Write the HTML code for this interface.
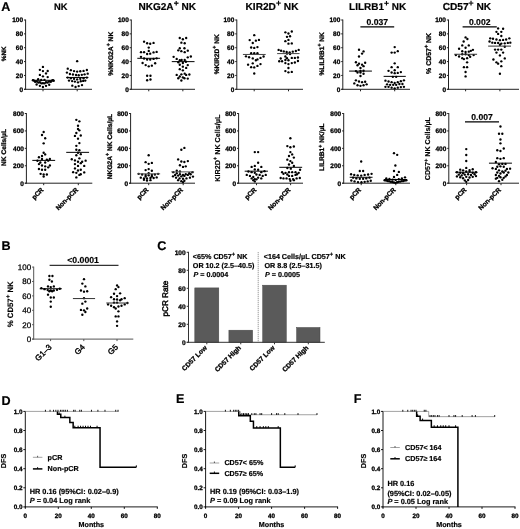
<!DOCTYPE html>
<html lang="en"><head><meta charset="utf-8"><title>Figure</title>
<style>html,body{margin:0;padding:0;background:#fff}svg{display:block;filter:blur(0.3px)}</style></head>
<body>
<svg width="520" height="529" viewBox="0 0 520 529" font-family="'Liberation Sans', sans-serif" shape-rendering="geometricPrecision" text-rendering="geometricPrecision">
<rect width="520" height="529" fill="#fff"/>
<line x1="25.6" y1="19.55" x2="25.6" y2="89.75" stroke="#222" stroke-width="1.0" />
<line x1="24" y1="89.3" x2="92" y2="89.3" stroke="#222" stroke-width="1.0" />
<line x1="24" y1="89.3" x2="25.6" y2="89.3" stroke="#222" stroke-width="1.0" />
<text x="23.1" y="91.63" font-size="6.5" text-anchor="end" font-weight="bold" fill="#000" stroke="#000" stroke-width="0.3" >0</text>
<line x1="24" y1="75.44" x2="25.6" y2="75.44" stroke="#222" stroke-width="1.0" />
<text x="23.1" y="77.77" font-size="6.5" text-anchor="end" font-weight="bold" fill="#000" stroke="#000" stroke-width="0.3" >20</text>
<line x1="24" y1="61.58" x2="25.6" y2="61.58" stroke="#222" stroke-width="1.0" />
<text x="23.1" y="63.91" font-size="6.5" text-anchor="end" font-weight="bold" fill="#000" stroke="#000" stroke-width="0.3" >40</text>
<line x1="24" y1="47.72" x2="25.6" y2="47.72" stroke="#222" stroke-width="1.0" />
<text x="23.1" y="50.05" font-size="6.5" text-anchor="end" font-weight="bold" fill="#000" stroke="#000" stroke-width="0.3" >60</text>
<line x1="24" y1="33.86" x2="25.6" y2="33.86" stroke="#222" stroke-width="1.0" />
<text x="23.1" y="36.19" font-size="6.5" text-anchor="end" font-weight="bold" fill="#000" stroke="#000" stroke-width="0.3" >80</text>
<line x1="24" y1="20" x2="25.6" y2="20" stroke="#222" stroke-width="1.0" />
<text x="23.1" y="22.33" font-size="6.5" text-anchor="end" font-weight="bold" fill="#000" stroke="#000" stroke-width="0.3" >100</text>
<line x1="43" y1="89.3" x2="43" y2="91.3" stroke="#222" stroke-width="1.0" />
<line x1="77.2" y1="89.3" x2="77.2" y2="91.3" stroke="#222" stroke-width="1.0" />
<g fill="#000"><circle cx="42.95" cy="66.89" r="1.18"/><circle cx="39.88" cy="69.85" r="1.18"/><circle cx="42.95" cy="71.08" r="1.18"/><circle cx="47.69" cy="70.95" r="1.18"/><circle cx="46.03" cy="73.42" r="1.18"/><circle cx="39.88" cy="74.89" r="1.18"/><circle cx="42.95" cy="76.31" r="1.18"/><circle cx="47.69" cy="77.11" r="1.18"/><circle cx="38.15" cy="79.2" r="1.18"/><circle cx="41.23" cy="80" r="1.18"/><circle cx="44.49" cy="79.82" r="1.18"/><circle cx="33.72" cy="80.55" r="1.18"/><circle cx="36.8" cy="81.42" r="1.18"/><circle cx="39.88" cy="82.28" r="1.18"/><circle cx="42.95" cy="83.14" r="1.18"/><circle cx="46.03" cy="82.28" r="1.18"/><circle cx="49.11" cy="81.42" r="1.18"/><circle cx="52.18" cy="80.55" r="1.18"/><circle cx="32.92" cy="80.18" r="1.18"/><circle cx="52.92" cy="80.18" r="1.18"/><circle cx="35.26" cy="81.66" r="1.18"/><circle cx="50.65" cy="81.66" r="1.18"/><circle cx="35.26" cy="81.6" r="1.18"/><circle cx="38.34" cy="82.46" r="1.18"/><circle cx="41.42" cy="83.32" r="1.18"/><circle cx="44.49" cy="83.32" r="1.18"/><circle cx="47.57" cy="82.46" r="1.18"/><circle cx="50.65" cy="81.6" r="1.18"/><circle cx="53.72" cy="80.74" r="1.18"/><circle cx="36.62" cy="84.49" r="1.18"/><circle cx="39.88" cy="85.85" r="1.18"/><circle cx="42.95" cy="86.95" r="1.18"/><circle cx="46.03" cy="85.85" r="1.18"/><circle cx="49.23" cy="84.74" r="1.18"/></g>
<line x1="32" y1="80.31" x2="53.85" y2="80.31" stroke="#000" stroke-width="1.0" />
<g fill="#000"><circle cx="77.17" cy="61.19" r="1.18"/><circle cx="67.75" cy="68.67" r="1.18"/><circle cx="70.87" cy="70.19" r="1.18"/><circle cx="74.05" cy="71.09" r="1.18"/><circle cx="77.17" cy="71.58" r="1.18"/><circle cx="80.28" cy="71.23" r="1.18"/><circle cx="83.54" cy="70.88" r="1.18"/><circle cx="86.86" cy="70.05" r="1.18"/><circle cx="66.92" cy="72.62" r="1.18"/><circle cx="69.9" cy="74" r="1.18"/><circle cx="72.95" cy="74.55" r="1.18"/><circle cx="76.06" cy="75.04" r="1.18"/><circle cx="78.69" cy="75.25" r="1.18"/><circle cx="81.81" cy="74.83" r="1.18"/><circle cx="84.58" cy="74.35" r="1.18"/><circle cx="87.69" cy="73.65" r="1.18"/><circle cx="67.62" cy="77.6" r="1.18"/><circle cx="70.87" cy="78.29" r="1.18"/><circle cx="74.05" cy="78.85" r="1.18"/><circle cx="77.17" cy="79.4" r="1.18"/><circle cx="80.28" cy="78.85" r="1.18"/><circle cx="83.54" cy="78.29" r="1.18"/><circle cx="86.86" cy="77.6" r="1.18"/><circle cx="69" cy="80.58" r="1.18"/><circle cx="72.12" cy="81.06" r="1.18"/><circle cx="74.88" cy="81.62" r="1.18"/><circle cx="78" cy="82.31" r="1.18"/><circle cx="80.77" cy="81.27" r="1.18"/><circle cx="83.19" cy="80.92" r="1.18"/><circle cx="85.27" cy="80.58" r="1.18"/><circle cx="72.32" cy="85.63" r="1.18"/><circle cx="75.58" cy="87.02" r="1.18"/><circle cx="78.69" cy="86.12" r="1.18"/><circle cx="82.02" cy="85.08" r="1.18"/></g>
<line x1="66.23" y1="77.46" x2="88.38" y2="77.46" stroke="#000" stroke-width="1.0" />
<text x="60.8" y="10" font-size="9.35" text-anchor="middle" font-weight="bold" fill="#000" stroke="#000" stroke-width="0.18" >NK</text>
<text x="6" y="53.8" font-size="6.34" text-anchor="middle" font-weight="bold" fill="#000" stroke="#000" stroke-width="0.3" transform="rotate(-90 6 53.8)" >%NK</text>
<line x1="131.3" y1="19.55" x2="131.3" y2="89.75" stroke="#222" stroke-width="1.0" />
<line x1="129.7" y1="89.3" x2="195" y2="89.3" stroke="#222" stroke-width="1.0" />
<line x1="129.7" y1="89.3" x2="131.3" y2="89.3" stroke="#222" stroke-width="1.0" />
<text x="128.8" y="91.63" font-size="6.5" text-anchor="end" font-weight="bold" fill="#000" stroke="#000" stroke-width="0.3" >0</text>
<line x1="129.7" y1="75.44" x2="131.3" y2="75.44" stroke="#222" stroke-width="1.0" />
<text x="128.8" y="77.77" font-size="6.5" text-anchor="end" font-weight="bold" fill="#000" stroke="#000" stroke-width="0.3" >20</text>
<line x1="129.7" y1="61.58" x2="131.3" y2="61.58" stroke="#222" stroke-width="1.0" />
<text x="128.8" y="63.91" font-size="6.5" text-anchor="end" font-weight="bold" fill="#000" stroke="#000" stroke-width="0.3" >40</text>
<line x1="129.7" y1="47.72" x2="131.3" y2="47.72" stroke="#222" stroke-width="1.0" />
<text x="128.8" y="50.05" font-size="6.5" text-anchor="end" font-weight="bold" fill="#000" stroke="#000" stroke-width="0.3" >60</text>
<line x1="129.7" y1="33.86" x2="131.3" y2="33.86" stroke="#222" stroke-width="1.0" />
<text x="128.8" y="36.19" font-size="6.5" text-anchor="end" font-weight="bold" fill="#000" stroke="#000" stroke-width="0.3" >80</text>
<line x1="129.7" y1="20" x2="131.3" y2="20" stroke="#222" stroke-width="1.0" />
<text x="128.8" y="22.33" font-size="6.5" text-anchor="end" font-weight="bold" fill="#000" stroke="#000" stroke-width="0.3" >100</text>
<line x1="148.75" y1="89.3" x2="148.75" y2="91.3" stroke="#222" stroke-width="1.0" />
<line x1="182.85" y1="89.3" x2="182.85" y2="91.3" stroke="#222" stroke-width="1.0" />
<g fill="#000"><circle cx="144.08" cy="41.69" r="1.18"/><circle cx="147.15" cy="43.29" r="1.18"/><circle cx="150.23" cy="43.78" r="1.18"/><circle cx="153.55" cy="42.92" r="1.18"/><circle cx="148.75" cy="47.6" r="1.18"/><circle cx="141" cy="52.15" r="1.18"/><circle cx="144.08" cy="52.15" r="1.18"/><circle cx="148.75" cy="50.92" r="1.18"/><circle cx="147.15" cy="54" r="1.18"/><circle cx="150.23" cy="53.63" r="1.18"/><circle cx="153.55" cy="52.4" r="1.18"/><circle cx="156.63" cy="51.91" r="1.18"/><circle cx="141" cy="56.83" r="1.18"/><circle cx="144.08" cy="58.55" r="1.18"/><circle cx="147.15" cy="59.54" r="1.18"/><circle cx="150.23" cy="59.54" r="1.18"/><circle cx="153.55" cy="58.92" r="1.18"/><circle cx="156.63" cy="58.31" r="1.18"/><circle cx="142.6" cy="62.98" r="1.18"/><circle cx="145.68" cy="65.08" r="1.18"/><circle cx="148.75" cy="66.31" r="1.18"/><circle cx="151.83" cy="65.69" r="1.18"/><circle cx="155.15" cy="63.23" r="1.18"/><circle cx="147.15" cy="75.78" r="1.18"/><circle cx="150.48" cy="75.78" r="1.18"/><circle cx="147.15" cy="80.22" r="1.18"/><circle cx="150.48" cy="79.48" r="1.18"/></g>
<line x1="137.31" y1="58.31" x2="160.08" y2="58.31" stroke="#000" stroke-width="1.0" />
<g fill="#000"><circle cx="179.77" cy="38" r="1.18"/><circle cx="182.85" cy="39.23" r="1.18"/><circle cx="186.17" cy="38" r="1.18"/><circle cx="181.37" cy="42.68" r="1.18"/><circle cx="184.69" cy="43.29" r="1.18"/><circle cx="179.77" cy="48.22" r="1.18"/><circle cx="184.45" cy="48.22" r="1.18"/><circle cx="178.29" cy="50.31" r="1.18"/><circle cx="181.37" cy="51.17" r="1.18"/><circle cx="184.69" cy="52.15" r="1.18"/><circle cx="187.77" cy="50.68" r="1.18"/><circle cx="173.62" cy="56.83" r="1.18"/><circle cx="176.69" cy="58.92" r="1.18"/><circle cx="179.77" cy="60.15" r="1.18"/><circle cx="181.62" cy="59.91" r="1.18"/><circle cx="184.69" cy="59.91" r="1.18"/><circle cx="187.77" cy="57.32" r="1.18"/><circle cx="190.85" cy="56.46" r="1.18"/><circle cx="178.29" cy="62.25" r="1.18"/><circle cx="182.85" cy="62.98" r="1.18"/><circle cx="185.92" cy="61.75" r="1.18"/><circle cx="179.77" cy="64.71" r="1.18"/><circle cx="182.85" cy="66.68" r="1.18"/><circle cx="187.77" cy="65.08" r="1.18"/><circle cx="186.17" cy="67.91" r="1.18"/><circle cx="179.77" cy="69.14" r="1.18"/><circle cx="182.85" cy="70.37" r="1.18"/><circle cx="176.69" cy="74.92" r="1.18"/><circle cx="181.37" cy="74.31" r="1.18"/><circle cx="184.69" cy="73.69" r="1.18"/><circle cx="186.17" cy="74.92" r="1.18"/><circle cx="189.37" cy="74.55" r="1.18"/><circle cx="179.77" cy="76.52" r="1.18"/><circle cx="182.85" cy="77.38" r="1.18"/><circle cx="178.29" cy="78.25" r="1.18"/><circle cx="184.45" cy="78.25" r="1.18"/><circle cx="187.77" cy="78.62" r="1.18"/><circle cx="181.37" cy="80.46" r="1.18"/></g>
<line x1="171.77" y1="61.63" x2="194.54" y2="61.63" stroke="#000" stroke-width="1.0" />
<text x="167.2" y="10" font-size="10.05" text-anchor="middle" font-weight="bold" fill="#000" stroke="#000" stroke-width="0.18" >NKG2A<tspan dy="-3.82" font-size="8.55">+</tspan><tspan dy="3.82"> NK</tspan></text>
<text x="112.6" y="53.7" font-size="6.69" text-anchor="middle" font-weight="bold" fill="#000" stroke="#000" stroke-width="0.3" transform="rotate(-90 112.6 53.7)" >%NKG2A<tspan dy="-2.54" font-size="5.35">+</tspan><tspan dy="2.54"> NK</tspan></text>
<line x1="236.8" y1="19.55" x2="236.8" y2="89.75" stroke="#222" stroke-width="1.0" />
<line x1="235.2" y1="89.3" x2="303" y2="89.3" stroke="#222" stroke-width="1.0" />
<line x1="235.2" y1="89.3" x2="236.8" y2="89.3" stroke="#222" stroke-width="1.0" />
<text x="234.3" y="91.63" font-size="6.5" text-anchor="end" font-weight="bold" fill="#000" stroke="#000" stroke-width="0.3" >0</text>
<line x1="235.2" y1="75.44" x2="236.8" y2="75.44" stroke="#222" stroke-width="1.0" />
<text x="234.3" y="77.77" font-size="6.5" text-anchor="end" font-weight="bold" fill="#000" stroke="#000" stroke-width="0.3" >20</text>
<line x1="235.2" y1="61.58" x2="236.8" y2="61.58" stroke="#222" stroke-width="1.0" />
<text x="234.3" y="63.91" font-size="6.5" text-anchor="end" font-weight="bold" fill="#000" stroke="#000" stroke-width="0.3" >40</text>
<line x1="235.2" y1="47.72" x2="236.8" y2="47.72" stroke="#222" stroke-width="1.0" />
<text x="234.3" y="50.05" font-size="6.5" text-anchor="end" font-weight="bold" fill="#000" stroke="#000" stroke-width="0.3" >60</text>
<line x1="235.2" y1="33.86" x2="236.8" y2="33.86" stroke="#222" stroke-width="1.0" />
<text x="234.3" y="36.19" font-size="6.5" text-anchor="end" font-weight="bold" fill="#000" stroke="#000" stroke-width="0.3" >80</text>
<line x1="235.2" y1="20" x2="236.8" y2="20" stroke="#222" stroke-width="1.0" />
<text x="234.3" y="22.33" font-size="6.5" text-anchor="end" font-weight="bold" fill="#000" stroke="#000" stroke-width="0.3" >100</text>
<line x1="254.2" y1="89.3" x2="254.2" y2="91.3" stroke="#222" stroke-width="1.0" />
<line x1="288.5" y1="89.3" x2="288.5" y2="91.3" stroke="#222" stroke-width="1.0" />
<g fill="#000"><circle cx="254.25" cy="35.14" r="1.18"/><circle cx="249.69" cy="40.06" r="1.18"/><circle cx="255.85" cy="40.68" r="1.18"/><circle cx="258.92" cy="39.94" r="1.18"/><circle cx="252.77" cy="43.02" r="1.18"/><circle cx="251.17" cy="47.45" r="1.18"/><circle cx="254.25" cy="47.94" r="1.18"/><circle cx="257.45" cy="47.08" r="1.18"/><circle cx="251.17" cy="53.23" r="1.18"/><circle cx="254.25" cy="53.23" r="1.18"/><circle cx="257.45" cy="53.23" r="1.18"/><circle cx="246" cy="56.31" r="1.18"/><circle cx="249.08" cy="57.29" r="1.18"/><circle cx="252.77" cy="58.4" r="1.18"/><circle cx="255.85" cy="60.25" r="1.18"/><circle cx="257.45" cy="59.38" r="1.18"/><circle cx="260.52" cy="57.91" r="1.18"/><circle cx="263.6" cy="56.55" r="1.18"/><circle cx="252.77" cy="63.32" r="1.18"/><circle cx="248.09" cy="64.68" r="1.18"/><circle cx="251.17" cy="67.14" r="1.18"/><circle cx="254.25" cy="67.38" r="1.18"/><circle cx="257.45" cy="65.91" r="1.18"/><circle cx="260.52" cy="64.06" r="1.18"/><circle cx="254.25" cy="73.54" r="1.18"/></g>
<line x1="242.92" y1="54.46" x2="265.69" y2="54.46" stroke="#444" stroke-width="1.0" />
<g fill="#000"><circle cx="285.38" cy="32.31" r="1.18"/><circle cx="288.46" cy="33.54" r="1.18"/><circle cx="291.78" cy="31.45" r="1.18"/><circle cx="286.98" cy="36.86" r="1.18"/><circle cx="290.06" cy="36.25" r="1.18"/><circle cx="288.46" cy="39.94" r="1.18"/><circle cx="285.38" cy="41.17" r="1.18"/><circle cx="288.46" cy="43.63" r="1.18"/><circle cx="291.78" cy="43.38" r="1.18"/><circle cx="278.62" cy="49.91" r="1.18"/><circle cx="281.08" cy="50.77" r="1.18"/><circle cx="283.78" cy="51.38" r="1.18"/><circle cx="286.62" cy="52" r="1.18"/><circle cx="289.69" cy="52.37" r="1.18"/><circle cx="292.77" cy="51.63" r="1.18"/><circle cx="295.85" cy="51.02" r="1.18"/><circle cx="298.68" cy="49.91" r="1.18"/><circle cx="286.98" cy="53.6" r="1.18"/><circle cx="290.06" cy="54.09" r="1.18"/><circle cx="285.38" cy="56.55" r="1.18"/><circle cx="286.98" cy="58.15" r="1.18"/><circle cx="280.71" cy="58.52" r="1.18"/><circle cx="291.78" cy="57.91" r="1.18"/><circle cx="294.86" cy="57.91" r="1.18"/><circle cx="297.94" cy="57.54" r="1.18"/><circle cx="279.23" cy="61.23" r="1.18"/><circle cx="282.06" cy="61.23" r="1.18"/><circle cx="285.38" cy="60" r="1.18"/><circle cx="288.46" cy="60.25" r="1.18"/><circle cx="285.38" cy="63.08" r="1.18"/><circle cx="288.46" cy="64.06" r="1.18"/><circle cx="291.78" cy="63.08" r="1.18"/><circle cx="294.86" cy="62.46" r="1.18"/><circle cx="297.94" cy="60.98" r="1.18"/><circle cx="288.46" cy="68" r="1.18"/><circle cx="285.38" cy="71.08" r="1.18"/><circle cx="288.46" cy="72.31" r="1.18"/><circle cx="291.78" cy="71.94" r="1.18"/></g>
<line x1="277.14" y1="53.6" x2="299.54" y2="53.6" stroke="#444" stroke-width="1.0" />
<text x="272" y="10" font-size="10.16" text-anchor="middle" font-weight="bold" fill="#000" stroke="#000" stroke-width="0.18" >KIR2D<tspan dy="-3.86" font-size="8.63">+</tspan><tspan dy="3.86"> NK</tspan></text>
<text x="218.9" y="54.3" font-size="6.58" text-anchor="middle" font-weight="bold" fill="#000" stroke="#000" stroke-width="0.3" transform="rotate(-90 218.9 54.3)" >%KIR2D<tspan dy="-2.5" font-size="5.26">+</tspan><tspan dy="2.5"> NK</tspan></text>
<line x1="342.8" y1="19.55" x2="342.8" y2="89.75" stroke="#222" stroke-width="1.0" />
<line x1="341.2" y1="89.3" x2="410" y2="89.3" stroke="#222" stroke-width="1.0" />
<line x1="341.2" y1="89.3" x2="342.8" y2="89.3" stroke="#222" stroke-width="1.0" />
<text x="340.3" y="91.63" font-size="6.5" text-anchor="end" font-weight="bold" fill="#000" stroke="#000" stroke-width="0.3" >0</text>
<line x1="341.2" y1="75.44" x2="342.8" y2="75.44" stroke="#222" stroke-width="1.0" />
<text x="340.3" y="77.77" font-size="6.5" text-anchor="end" font-weight="bold" fill="#000" stroke="#000" stroke-width="0.3" >20</text>
<line x1="341.2" y1="61.58" x2="342.8" y2="61.58" stroke="#222" stroke-width="1.0" />
<text x="340.3" y="63.91" font-size="6.5" text-anchor="end" font-weight="bold" fill="#000" stroke="#000" stroke-width="0.3" >40</text>
<line x1="341.2" y1="47.72" x2="342.8" y2="47.72" stroke="#222" stroke-width="1.0" />
<text x="340.3" y="50.05" font-size="6.5" text-anchor="end" font-weight="bold" fill="#000" stroke="#000" stroke-width="0.3" >60</text>
<line x1="341.2" y1="33.86" x2="342.8" y2="33.86" stroke="#222" stroke-width="1.0" />
<text x="340.3" y="36.19" font-size="6.5" text-anchor="end" font-weight="bold" fill="#000" stroke="#000" stroke-width="0.3" >80</text>
<line x1="341.2" y1="20" x2="342.8" y2="20" stroke="#222" stroke-width="1.0" />
<text x="340.3" y="22.33" font-size="6.5" text-anchor="end" font-weight="bold" fill="#000" stroke="#000" stroke-width="0.3" >100</text>
<line x1="360.5" y1="89.3" x2="360.5" y2="91.3" stroke="#222" stroke-width="1.0" />
<line x1="394.7" y1="89.3" x2="394.7" y2="91.3" stroke="#222" stroke-width="1.0" />
<g fill="#000"><circle cx="359" cy="49.78" r="1.18"/><circle cx="363.55" cy="51.38" r="1.18"/><circle cx="362.08" cy="53.6" r="1.18"/><circle cx="359" cy="56.55" r="1.18"/><circle cx="355.92" cy="62.22" r="1.18"/><circle cx="365.15" cy="62.71" r="1.18"/><circle cx="359" cy="63.69" r="1.18"/><circle cx="362.08" cy="64.68" r="1.18"/><circle cx="357.52" cy="65.29" r="1.18"/><circle cx="363.55" cy="66.15" r="1.18"/><circle cx="360.48" cy="68" r="1.18"/><circle cx="355.92" cy="71.08" r="1.18"/><circle cx="360.48" cy="70.83" r="1.18"/><circle cx="363.55" cy="70.71" r="1.18"/><circle cx="357.52" cy="72.55" r="1.18"/><circle cx="360.48" cy="72.55" r="1.18"/><circle cx="363.55" cy="73.78" r="1.18"/><circle cx="360.48" cy="76" r="1.18"/><circle cx="355.92" cy="80.31" r="1.18"/><circle cx="359" cy="81.54" r="1.18"/><circle cx="362.08" cy="82.15" r="1.18"/><circle cx="365.15" cy="81.78" r="1.18"/><circle cx="354.32" cy="83.38" r="1.18"/><circle cx="357.52" cy="85.23" r="1.18"/><circle cx="360.48" cy="85.85" r="1.18"/><circle cx="363.55" cy="85.23" r="1.18"/><circle cx="366.63" cy="84.37" r="1.18"/></g>
<line x1="349.15" y1="71.08" x2="371.92" y2="71.08" stroke="#000" stroke-width="1.0" />
<g fill="#000"><circle cx="394.69" cy="47.08" r="1.18"/><circle cx="391.62" cy="52.62" r="1.18"/><circle cx="394.69" cy="52.62" r="1.18"/><circle cx="397.77" cy="51.14" r="1.18"/><circle cx="394.69" cy="63.32" r="1.18"/><circle cx="391.62" cy="67.14" r="1.18"/><circle cx="397.77" cy="67.14" r="1.18"/><circle cx="388.54" cy="70.83" r="1.18"/><circle cx="394.69" cy="70.22" r="1.18"/><circle cx="391.62" cy="72.55" r="1.18"/><circle cx="394.69" cy="73.17" r="1.18"/><circle cx="397.77" cy="72.92" r="1.18"/><circle cx="400.85" cy="72.06" r="1.18"/><circle cx="392.85" cy="76.86" r="1.18"/><circle cx="396.17" cy="76.86" r="1.18"/><circle cx="385.46" cy="80.68" r="1.18"/><circle cx="388.54" cy="81.54" r="1.18"/><circle cx="391.62" cy="82.15" r="1.18"/><circle cx="394.69" cy="83.02" r="1.18"/><circle cx="397.77" cy="82.15" r="1.18"/><circle cx="400.85" cy="81.17" r="1.18"/><circle cx="403.92" cy="80.31" r="1.18"/><circle cx="387.06" cy="84.37" r="1.18"/><circle cx="390.14" cy="84.86" r="1.18"/><circle cx="393.22" cy="84.86" r="1.18"/><circle cx="396.17" cy="84.86" r="1.18"/><circle cx="399.37" cy="84" r="1.18"/><circle cx="402.45" cy="84" r="1.18"/><circle cx="385.46" cy="86.83" r="1.18"/><circle cx="388.54" cy="86.83" r="1.18"/><circle cx="391.62" cy="87.69" r="1.18"/><circle cx="394.69" cy="88.31" r="1.18"/><circle cx="397.77" cy="87.69" r="1.18"/><circle cx="400.85" cy="87.08" r="1.18"/><circle cx="403.92" cy="86.83" r="1.18"/></g>
<line x1="383.62" y1="76.37" x2="405.77" y2="76.37" stroke="#000" stroke-width="1.0" />
<text x="377.6" y="10" font-size="9.97" text-anchor="middle" font-weight="bold" fill="#000" stroke="#000" stroke-width="0.18" >LILRB1<tspan dy="-3.79" font-size="8.47">+</tspan><tspan dy="3.79"> NK</tspan></text>
<text x="324" y="53.8" font-size="6.6" text-anchor="middle" font-weight="bold" fill="#000" stroke="#000" stroke-width="0.3" transform="rotate(-90 324 53.8)" >%LILRB1<tspan dy="-2.51" font-size="5.28">+</tspan><tspan dy="2.51"> NK</tspan></text>
<line x1="448.5" y1="19.55" x2="448.5" y2="89.75" stroke="#222" stroke-width="1.0" />
<line x1="446.9" y1="89.3" x2="519" y2="89.3" stroke="#222" stroke-width="1.0" />
<line x1="446.9" y1="89.3" x2="448.5" y2="89.3" stroke="#222" stroke-width="1.0" />
<text x="446" y="91.63" font-size="6.5" text-anchor="end" font-weight="bold" fill="#000" stroke="#000" stroke-width="0.3" >0</text>
<line x1="446.9" y1="75.44" x2="448.5" y2="75.44" stroke="#222" stroke-width="1.0" />
<text x="446" y="77.77" font-size="6.5" text-anchor="end" font-weight="bold" fill="#000" stroke="#000" stroke-width="0.3" >20</text>
<line x1="446.9" y1="61.58" x2="448.5" y2="61.58" stroke="#222" stroke-width="1.0" />
<text x="446" y="63.91" font-size="6.5" text-anchor="end" font-weight="bold" fill="#000" stroke="#000" stroke-width="0.3" >40</text>
<line x1="446.9" y1="47.72" x2="448.5" y2="47.72" stroke="#222" stroke-width="1.0" />
<text x="446" y="50.05" font-size="6.5" text-anchor="end" font-weight="bold" fill="#000" stroke="#000" stroke-width="0.3" >60</text>
<line x1="446.9" y1="33.86" x2="448.5" y2="33.86" stroke="#222" stroke-width="1.0" />
<text x="446" y="36.19" font-size="6.5" text-anchor="end" font-weight="bold" fill="#000" stroke="#000" stroke-width="0.3" >80</text>
<line x1="446.9" y1="20" x2="448.5" y2="20" stroke="#222" stroke-width="1.0" />
<text x="446" y="22.33" font-size="6.5" text-anchor="end" font-weight="bold" fill="#000" stroke="#000" stroke-width="0.3" >100</text>
<line x1="465.6" y1="89.3" x2="465.6" y2="91.3" stroke="#222" stroke-width="1.0" />
<line x1="499.9" y1="89.3" x2="499.9" y2="91.3" stroke="#222" stroke-width="1.0" />
<g fill="#000"><circle cx="465.58" cy="37.38" r="1.18"/><circle cx="467.38" cy="39.05" r="1.18"/><circle cx="463.65" cy="41.54" r="1.18"/><circle cx="462.26" cy="45.42" r="1.18"/><circle cx="468.77" cy="45.42" r="1.18"/><circle cx="465.58" cy="47.77" r="1.18"/><circle cx="459.08" cy="48.74" r="1.18"/><circle cx="472.92" cy="49.85" r="1.18"/><circle cx="462.26" cy="51.23" r="1.18"/><circle cx="465.58" cy="51.92" r="1.18"/><circle cx="468.77" cy="51.65" r="1.18"/><circle cx="470.85" cy="50.82" r="1.18"/><circle cx="455.89" cy="55.11" r="1.18"/><circle cx="459.08" cy="56.49" r="1.18"/><circle cx="462.26" cy="54.28" r="1.18"/><circle cx="465.58" cy="54.28" r="1.18"/><circle cx="468.77" cy="55.11" r="1.18"/><circle cx="462.26" cy="58.15" r="1.18"/><circle cx="463.92" cy="59.12" r="1.18"/><circle cx="467.11" cy="58.15" r="1.18"/><circle cx="470.15" cy="56.77" r="1.18"/><circle cx="473.62" cy="55.11" r="1.18"/><circle cx="467.11" cy="62.31" r="1.18"/><circle cx="463.92" cy="67.15" r="1.18"/><circle cx="467.11" cy="67.15" r="1.18"/><circle cx="465.58" cy="72" r="1.18"/><circle cx="465.58" cy="76.43" r="1.18"/></g>
<line x1="454.23" y1="54.28" x2="477.08" y2="54.28" stroke="#333" stroke-width="1.0" />
<g fill="#000"><circle cx="498.12" cy="28.38" r="1.18"/><circle cx="503.11" cy="28.8" r="1.18"/><circle cx="496.46" cy="31.85" r="1.18"/><circle cx="501.31" cy="31.85" r="1.18"/><circle cx="498.12" cy="33.92" r="1.18"/><circle cx="501.31" cy="36" r="1.18"/><circle cx="490.23" cy="38.35" r="1.18"/><circle cx="493" cy="38.77" r="1.18"/><circle cx="496.46" cy="39.46" r="1.18"/><circle cx="499.92" cy="40.15" r="1.18"/><circle cx="503.11" cy="39.88" r="1.18"/><circle cx="506.15" cy="39.46" r="1.18"/><circle cx="509.34" cy="38.35" r="1.18"/><circle cx="489.54" cy="41.54" r="1.18"/><circle cx="492.31" cy="42.65" r="1.18"/><circle cx="495.08" cy="42.92" r="1.18"/><circle cx="498.12" cy="42.92" r="1.18"/><circle cx="501.31" cy="43.62" r="1.18"/><circle cx="504.77" cy="43.34" r="1.18"/><circle cx="507.82" cy="42.92" r="1.18"/><circle cx="510.31" cy="42.65" r="1.18"/><circle cx="499.92" cy="44.72" r="1.18"/><circle cx="504.77" cy="46.8" r="1.18"/><circle cx="495.08" cy="49.57" r="1.18"/><circle cx="498.12" cy="49.57" r="1.18"/><circle cx="501.31" cy="49.57" r="1.18"/><circle cx="496.46" cy="52.62" r="1.18"/><circle cx="503.11" cy="52.62" r="1.18"/><circle cx="499.92" cy="55.38" r="1.18"/><circle cx="504.77" cy="58.43" r="1.18"/><circle cx="493.42" cy="59.54" r="1.18"/><circle cx="501.31" cy="61.34" r="1.18"/><circle cx="496.46" cy="62.31" r="1.18"/><circle cx="498.12" cy="63.69" r="1.18"/><circle cx="501.31" cy="66.18" r="1.18"/><circle cx="499.92" cy="73.8" r="1.18"/></g>
<line x1="488.15" y1="46.11" x2="511" y2="46.11" stroke="#333" stroke-width="1.0" />
<text x="466.9" y="10" font-size="10.16" text-anchor="middle" font-weight="bold" fill="#000" stroke="#000" stroke-width="0.18" >CD57<tspan dy="-3.86" font-size="8.63">+</tspan><tspan dy="3.86"> NK</tspan></text>
<text x="431" y="53.4" font-size="6.93" text-anchor="middle" font-weight="bold" fill="#000" stroke="#000" stroke-width="0.3" transform="rotate(-90 431 53.4)" >% CD57<tspan dy="-2.63" font-size="5.55">+</tspan><tspan dy="2.63"> NK</tspan></text>
<text x="1.3" y="10.5" font-size="12.6" text-anchor="start" font-weight="bold" fill="#000" stroke="#000" stroke-width="0.18" >A</text>
<line x1="26.4" y1="113.05" x2="26.4" y2="183.65" stroke="#222" stroke-width="1.0" />
<line x1="24.8" y1="183.2" x2="92.3" y2="183.2" stroke="#222" stroke-width="1.0" />
<line x1="24.8" y1="183.2" x2="26.4" y2="183.2" stroke="#222" stroke-width="1.0" />
<text x="23.9" y="185.53" font-size="6.5" text-anchor="end" font-weight="bold" fill="#000" stroke="#000" stroke-width="0.3" >0</text>
<line x1="24.8" y1="165.77" x2="26.4" y2="165.77" stroke="#222" stroke-width="1.0" />
<text x="23.9" y="168.1" font-size="6.5" text-anchor="end" font-weight="bold" fill="#000" stroke="#000" stroke-width="0.3" >200</text>
<line x1="24.8" y1="148.35" x2="26.4" y2="148.35" stroke="#222" stroke-width="1.0" />
<text x="23.9" y="150.68" font-size="6.5" text-anchor="end" font-weight="bold" fill="#000" stroke="#000" stroke-width="0.3" >400</text>
<line x1="24.8" y1="130.93" x2="26.4" y2="130.93" stroke="#222" stroke-width="1.0" />
<text x="23.9" y="133.25" font-size="6.5" text-anchor="end" font-weight="bold" fill="#000" stroke="#000" stroke-width="0.3" >600</text>
<line x1="24.8" y1="113.5" x2="26.4" y2="113.5" stroke="#222" stroke-width="1.0" />
<text x="23.9" y="115.83" font-size="6.5" text-anchor="end" font-weight="bold" fill="#000" stroke="#000" stroke-width="0.3" >800</text>
<line x1="43.7" y1="183.2" x2="43.7" y2="185.2" stroke="#222" stroke-width="1.0" />
<line x1="78.3" y1="183.2" x2="78.3" y2="185.2" stroke="#222" stroke-width="1.0" />
<g fill="#000"><circle cx="43.66" cy="132" r="1.18"/><circle cx="42" cy="135.05" r="1.18"/><circle cx="45.18" cy="138.23" r="1.18"/><circle cx="43.66" cy="143.35" r="1.18"/><circle cx="43.66" cy="152.77" r="1.18"/><circle cx="45.18" cy="154.43" r="1.18"/><circle cx="42" cy="155.95" r="1.18"/><circle cx="38.95" cy="157.2" r="1.18"/><circle cx="42" cy="159" r="1.18"/><circle cx="37.43" cy="160.8" r="1.18"/><circle cx="46.85" cy="159.69" r="1.18"/><circle cx="49.89" cy="159" r="1.18"/><circle cx="48.23" cy="160.66" r="1.18"/><circle cx="40.34" cy="162.46" r="1.18"/><circle cx="45.18" cy="162.46" r="1.18"/><circle cx="38.95" cy="164.12" r="1.18"/><circle cx="42" cy="165.51" r="1.18"/><circle cx="45.18" cy="166.34" r="1.18"/><circle cx="49.89" cy="165.51" r="1.18"/><circle cx="48.23" cy="167.31" r="1.18"/><circle cx="38.95" cy="168.97" r="1.18"/><circle cx="42" cy="169.8" r="1.18"/><circle cx="45.18" cy="169.8" r="1.18"/><circle cx="40.62" cy="173.82" r="1.18"/><circle cx="43.66" cy="174.51" r="1.18"/><circle cx="46.85" cy="174.51" r="1.18"/><circle cx="43.66" cy="176.58" r="1.18"/></g>
<line x1="32.31" y1="160.38" x2="55.15" y2="160.38" stroke="#000" stroke-width="1.0" />
<g fill="#000"><circle cx="76.34" cy="119.82" r="1.18"/><circle cx="79.38" cy="121.34" r="1.18"/><circle cx="78" cy="125.77" r="1.18"/><circle cx="78" cy="128.95" r="1.18"/><circle cx="79.38" cy="130.34" r="1.18"/><circle cx="76.34" cy="132.97" r="1.18"/><circle cx="74.95" cy="135.88" r="1.18"/><circle cx="80.77" cy="135.46" r="1.18"/><circle cx="78" cy="138.65" r="1.18"/><circle cx="79.38" cy="143.08" r="1.18"/><circle cx="76.34" cy="145.85" r="1.18"/><circle cx="76.34" cy="149.72" r="1.18"/><circle cx="79.38" cy="150.28" r="1.18"/><circle cx="78" cy="152.77" r="1.18"/><circle cx="80.77" cy="154.15" r="1.18"/><circle cx="76.34" cy="155.26" r="1.18"/><circle cx="79.38" cy="158.31" r="1.18"/><circle cx="71.77" cy="159.28" r="1.18"/><circle cx="74.95" cy="160.38" r="1.18"/><circle cx="85.62" cy="160.66" r="1.18"/><circle cx="78" cy="161.77" r="1.18"/><circle cx="82.15" cy="161.77" r="1.18"/><circle cx="80.77" cy="163.15" r="1.18"/><circle cx="74.95" cy="164.12" r="1.18"/><circle cx="78" cy="165.92" r="1.18"/><circle cx="84.23" cy="165.92" r="1.18"/><circle cx="74.95" cy="168.42" r="1.18"/><circle cx="80.77" cy="169.8" r="1.18"/><circle cx="78" cy="170.49" r="1.18"/><circle cx="84.23" cy="172.43" r="1.18"/><circle cx="73.15" cy="172.15" r="1.18"/><circle cx="76.34" cy="172.85" r="1.18"/><circle cx="80.77" cy="174.23" r="1.18"/><circle cx="79.38" cy="174.92" r="1.18"/><circle cx="76.34" cy="177.42" r="1.18"/></g>
<line x1="66.23" y1="152.35" x2="89.08" y2="152.35" stroke="#000" stroke-width="1.0" />
<text x="6.2" y="147.5" font-size="6.63" text-anchor="middle" font-weight="bold" fill="#000" stroke="#000" stroke-width="0.3" transform="rotate(-90 6.2 147.5)" >NK Cells/µL</text>
<text x="44" y="190.3" font-size="6.6" text-anchor="end" font-weight="bold" fill="#000" stroke="#000" stroke-width="0.3" transform="rotate(-45 44 190.3)" >pCR</text>
<text x="78.6" y="190.3" font-size="6.6" text-anchor="end" font-weight="bold" fill="#000" stroke="#000" stroke-width="0.3" transform="rotate(-45 78.6 190.3)" >Non-pCR</text>
<line x1="130.6" y1="113.05" x2="130.6" y2="183.65" stroke="#222" stroke-width="1.0" />
<line x1="129" y1="183.2" x2="195" y2="183.2" stroke="#222" stroke-width="1.0" />
<line x1="129" y1="183.2" x2="130.6" y2="183.2" stroke="#222" stroke-width="1.0" />
<text x="128.1" y="185.53" font-size="6.5" text-anchor="end" font-weight="bold" fill="#000" stroke="#000" stroke-width="0.3" >0</text>
<line x1="129" y1="165.77" x2="130.6" y2="165.77" stroke="#222" stroke-width="1.0" />
<text x="128.1" y="168.1" font-size="6.5" text-anchor="end" font-weight="bold" fill="#000" stroke="#000" stroke-width="0.3" >200</text>
<line x1="129" y1="148.35" x2="130.6" y2="148.35" stroke="#222" stroke-width="1.0" />
<text x="128.1" y="150.68" font-size="6.5" text-anchor="end" font-weight="bold" fill="#000" stroke="#000" stroke-width="0.3" >400</text>
<line x1="129" y1="130.93" x2="130.6" y2="130.93" stroke="#222" stroke-width="1.0" />
<text x="128.1" y="133.25" font-size="6.5" text-anchor="end" font-weight="bold" fill="#000" stroke="#000" stroke-width="0.3" >600</text>
<line x1="129" y1="113.5" x2="130.6" y2="113.5" stroke="#222" stroke-width="1.0" />
<text x="128.1" y="115.83" font-size="6.5" text-anchor="end" font-weight="bold" fill="#000" stroke="#000" stroke-width="0.3" >800</text>
<line x1="148.7" y1="183.2" x2="148.7" y2="185.2" stroke="#222" stroke-width="1.0" />
<line x1="183.2" y1="183.2" x2="183.2" y2="185.2" stroke="#222" stroke-width="1.0" />
<g fill="#000"><circle cx="148.66" cy="155.26" r="1.18"/><circle cx="145.62" cy="162.18" r="1.18"/><circle cx="148.66" cy="163.85" r="1.18"/><circle cx="151.85" cy="162.88" r="1.18"/><circle cx="145.62" cy="170.08" r="1.18"/><circle cx="148.66" cy="169.11" r="1.18"/><circle cx="151.85" cy="170.77" r="1.18"/><circle cx="148.66" cy="173.26" r="1.18"/><circle cx="138.69" cy="173.82" r="1.18"/><circle cx="142.15" cy="174.51" r="1.18"/><circle cx="145.62" cy="174.92" r="1.18"/><circle cx="148.66" cy="175.34" r="1.18"/><circle cx="151.85" cy="174.92" r="1.18"/><circle cx="154.89" cy="174.51" r="1.18"/><circle cx="158.08" cy="173.82" r="1.18"/><circle cx="140.77" cy="177.69" r="1.18"/><circle cx="143.95" cy="178.38" r="1.18"/><circle cx="147" cy="178.38" r="1.18"/><circle cx="150.46" cy="177.97" r="1.18"/><circle cx="153.65" cy="177.97" r="1.18"/><circle cx="156.69" cy="177.42" r="1.18"/><circle cx="145.62" cy="176.58" r="1.18"/><circle cx="151.85" cy="176.58" r="1.18"/><circle cx="143.95" cy="179.77" r="1.18"/><circle cx="147" cy="180.46" r="1.18"/><circle cx="150.46" cy="180.18" r="1.18"/></g>
<line x1="137.31" y1="173.82" x2="160.15" y2="173.82" stroke="#555" stroke-width="1.0" />
<g fill="#000"><circle cx="181.34" cy="149.72" r="1.18"/><circle cx="184.38" cy="147.92" r="1.18"/><circle cx="178.15" cy="159.42" r="1.18"/><circle cx="181.34" cy="161.49" r="1.18"/><circle cx="184.38" cy="162.05" r="1.18"/><circle cx="187.85" cy="161.08" r="1.18"/><circle cx="179.95" cy="165.23" r="1.18"/><circle cx="183" cy="166.89" r="1.18"/><circle cx="185.77" cy="166.34" r="1.18"/><circle cx="176.77" cy="170.77" r="1.18"/><circle cx="179.95" cy="171.46" r="1.18"/><circle cx="173.31" cy="172.15" r="1.18"/><circle cx="176.77" cy="173.26" r="1.18"/><circle cx="179.95" cy="174.23" r="1.18"/><circle cx="183" cy="174.92" r="1.18"/><circle cx="185.77" cy="174.23" r="1.18"/><circle cx="189.23" cy="173.26" r="1.18"/><circle cx="192.42" cy="172.15" r="1.18"/><circle cx="175.11" cy="174.92" r="1.18"/><circle cx="178.15" cy="175.62" r="1.18"/><circle cx="181.34" cy="176.31" r="1.18"/><circle cx="184.38" cy="175.89" r="1.18"/><circle cx="187.85" cy="174.92" r="1.18"/><circle cx="190.62" cy="174.23" r="1.18"/><circle cx="173.03" cy="176.31" r="1.18"/><circle cx="176.08" cy="177.69" r="1.18"/><circle cx="179.54" cy="178.38" r="1.18"/><circle cx="183" cy="178.8" r="1.18"/><circle cx="186.46" cy="178.38" r="1.18"/><circle cx="189.92" cy="177.69" r="1.18"/><circle cx="192.97" cy="176.58" r="1.18"/><circle cx="178.15" cy="180.18" r="1.18"/><circle cx="181.34" cy="181.15" r="1.18"/><circle cx="184.38" cy="180.74" r="1.18"/><circle cx="183" cy="182.12" r="1.18"/></g>
<line x1="171.23" y1="171.88" x2="194.08" y2="171.88" stroke="#555" stroke-width="1.0" />
<text x="111.6" y="146.5" font-size="6.66" text-anchor="middle" font-weight="bold" fill="#000" stroke="#000" stroke-width="0.3" transform="rotate(-90 111.6 146.5)" >NKG2A<tspan dy="-2.53" font-size="5.33">+</tspan><tspan dy="2.53"> NK Cells/µL</tspan></text>
<text x="149" y="190.3" font-size="6.6" text-anchor="end" font-weight="bold" fill="#000" stroke="#000" stroke-width="0.3" transform="rotate(-45 149 190.3)" >pCR</text>
<text x="183.5" y="190.3" font-size="6.6" text-anchor="end" font-weight="bold" fill="#000" stroke="#000" stroke-width="0.3" transform="rotate(-45 183.5 190.3)" >Non-pCR</text>
<line x1="238.6" y1="113.05" x2="238.6" y2="183.65" stroke="#222" stroke-width="1.0" />
<line x1="237" y1="183.2" x2="303" y2="183.2" stroke="#222" stroke-width="1.0" />
<line x1="237" y1="183.2" x2="238.6" y2="183.2" stroke="#222" stroke-width="1.0" />
<text x="236.1" y="185.53" font-size="6.5" text-anchor="end" font-weight="bold" fill="#000" stroke="#000" stroke-width="0.3" >0</text>
<line x1="237" y1="165.77" x2="238.6" y2="165.77" stroke="#222" stroke-width="1.0" />
<text x="236.1" y="168.1" font-size="6.5" text-anchor="end" font-weight="bold" fill="#000" stroke="#000" stroke-width="0.3" >200</text>
<line x1="237" y1="148.35" x2="238.6" y2="148.35" stroke="#222" stroke-width="1.0" />
<text x="236.1" y="150.68" font-size="6.5" text-anchor="end" font-weight="bold" fill="#000" stroke="#000" stroke-width="0.3" >400</text>
<line x1="237" y1="130.93" x2="238.6" y2="130.93" stroke="#222" stroke-width="1.0" />
<text x="236.1" y="133.25" font-size="6.5" text-anchor="end" font-weight="bold" fill="#000" stroke="#000" stroke-width="0.3" >600</text>
<line x1="237" y1="113.5" x2="238.6" y2="113.5" stroke="#222" stroke-width="1.0" />
<text x="236.1" y="115.83" font-size="6.5" text-anchor="end" font-weight="bold" fill="#000" stroke="#000" stroke-width="0.3" >800</text>
<line x1="256.5" y1="183.2" x2="256.5" y2="185.2" stroke="#222" stroke-width="1.0" />
<line x1="290.6" y1="183.2" x2="290.6" y2="185.2" stroke="#222" stroke-width="1.0" />
<g fill="#000"><circle cx="254.8" cy="152.08" r="1.18"/><circle cx="258.12" cy="152.08" r="1.18"/><circle cx="258.12" cy="162.74" r="1.18"/><circle cx="254.8" cy="165.92" r="1.18"/><circle cx="251.62" cy="166.89" r="1.18"/><circle cx="261.31" cy="166.89" r="1.18"/><circle cx="254.8" cy="169.38" r="1.18"/><circle cx="258.12" cy="169.8" r="1.18"/><circle cx="248.43" cy="171.46" r="1.18"/><circle cx="251.62" cy="172.15" r="1.18"/><circle cx="254.8" cy="172.85" r="1.18"/><circle cx="261.31" cy="172.15" r="1.18"/><circle cx="264.49" cy="171.18" r="1.18"/><circle cx="246.77" cy="174.92" r="1.18"/><circle cx="249.95" cy="175.89" r="1.18"/><circle cx="253.28" cy="177" r="1.18"/><circle cx="256.46" cy="174.51" r="1.18"/><circle cx="259.65" cy="174.92" r="1.18"/><circle cx="262.69" cy="175.89" r="1.18"/><circle cx="265.74" cy="174.92" r="1.18"/><circle cx="251.62" cy="178.38" r="1.18"/><circle cx="254.8" cy="179.08" r="1.18"/><circle cx="258.12" cy="177.69" r="1.18"/><circle cx="261.31" cy="178.38" r="1.18"/><circle cx="253.28" cy="180.18" r="1.18"/><circle cx="256.46" cy="179.35" r="1.18"/><circle cx="254.8" cy="181.43" r="1.18"/></g>
<line x1="244.69" y1="171.18" x2="267.95" y2="171.18" stroke="#000" stroke-width="1.0" />
<g fill="#000"><circle cx="290.38" cy="138.23" r="1.18"/><circle cx="287.34" cy="146.12" r="1.18"/><circle cx="290.38" cy="147.23" r="1.18"/><circle cx="293.85" cy="146.54" r="1.18"/><circle cx="290.38" cy="152.08" r="1.18"/><circle cx="292.18" cy="154.43" r="1.18"/><circle cx="289" cy="155.95" r="1.18"/><circle cx="293.85" cy="157.62" r="1.18"/><circle cx="287.34" cy="159.69" r="1.18"/><circle cx="290.38" cy="161.08" r="1.18"/><circle cx="292.18" cy="162.74" r="1.18"/><circle cx="289" cy="164.54" r="1.18"/><circle cx="293.85" cy="165.92" r="1.18"/><circle cx="287.34" cy="168" r="1.18"/><circle cx="290.8" cy="168.69" r="1.18"/><circle cx="300.08" cy="169.8" r="1.18"/><circle cx="282.08" cy="172.15" r="1.18"/><circle cx="285.54" cy="172.85" r="1.18"/><circle cx="289" cy="172.15" r="1.18"/><circle cx="292.18" cy="172.15" r="1.18"/><circle cx="295.51" cy="172.15" r="1.18"/><circle cx="298.69" cy="172.85" r="1.18"/><circle cx="283.46" cy="173.82" r="1.18"/><circle cx="287.34" cy="174.51" r="1.18"/><circle cx="297.03" cy="174.23" r="1.18"/><circle cx="289" cy="175.89" r="1.18"/><circle cx="292.18" cy="175.89" r="1.18"/><circle cx="295.51" cy="174.92" r="1.18"/><circle cx="280.69" cy="177.97" r="1.18"/><circle cx="283.46" cy="178.38" r="1.18"/><circle cx="286.51" cy="178.38" r="1.18"/><circle cx="289.69" cy="179.08" r="1.18"/><circle cx="293.15" cy="179.08" r="1.18"/><circle cx="296.62" cy="178.38" r="1.18"/><circle cx="299.8" cy="177.97" r="1.18"/><circle cx="290.38" cy="180.74" r="1.18"/><circle cx="293.85" cy="180.18" r="1.18"/></g>
<line x1="279.31" y1="167.31" x2="302.15" y2="167.31" stroke="#000" stroke-width="1.0" />
<text x="219.8" y="148.2" font-size="7.19" text-anchor="middle" font-weight="bold" fill="#000" stroke="#000" stroke-width="0.18" transform="rotate(-90 219.8 148.2)" >KIR2D<tspan dy="-2.73" font-size="5.75">+</tspan><tspan dy="2.73"> NK Cells/µL</tspan></text>
<text x="256.8" y="190.3" font-size="6.6" text-anchor="end" font-weight="bold" fill="#000" stroke="#000" stroke-width="0.3" transform="rotate(-45 256.8 190.3)" >pCR</text>
<text x="290.9" y="190.3" font-size="6.6" text-anchor="end" font-weight="bold" fill="#000" stroke="#000" stroke-width="0.3" transform="rotate(-45 290.9 190.3)" >Non-pCR</text>
<line x1="343.7" y1="113.05" x2="343.7" y2="183.65" stroke="#222" stroke-width="1.0" />
<line x1="342.1" y1="183.2" x2="410" y2="183.2" stroke="#222" stroke-width="1.0" />
<line x1="342.1" y1="183.2" x2="343.7" y2="183.2" stroke="#222" stroke-width="1.0" />
<text x="341.2" y="185.53" font-size="6.5" text-anchor="end" font-weight="bold" fill="#000" stroke="#000" stroke-width="0.3" >0</text>
<line x1="342.1" y1="165.77" x2="343.7" y2="165.77" stroke="#222" stroke-width="1.0" />
<text x="341.2" y="168.1" font-size="6.5" text-anchor="end" font-weight="bold" fill="#000" stroke="#000" stroke-width="0.3" >200</text>
<line x1="342.1" y1="148.35" x2="343.7" y2="148.35" stroke="#222" stroke-width="1.0" />
<text x="341.2" y="150.68" font-size="6.5" text-anchor="end" font-weight="bold" fill="#000" stroke="#000" stroke-width="0.3" >400</text>
<line x1="342.1" y1="130.93" x2="343.7" y2="130.93" stroke="#222" stroke-width="1.0" />
<text x="341.2" y="133.25" font-size="6.5" text-anchor="end" font-weight="bold" fill="#000" stroke="#000" stroke-width="0.3" >600</text>
<line x1="342.1" y1="113.5" x2="343.7" y2="113.5" stroke="#222" stroke-width="1.0" />
<text x="341.2" y="115.83" font-size="6.5" text-anchor="end" font-weight="bold" fill="#000" stroke="#000" stroke-width="0.3" >800</text>
<line x1="361.2" y1="183.2" x2="361.2" y2="185.2" stroke="#222" stroke-width="1.0" />
<line x1="395.8" y1="183.2" x2="395.8" y2="185.2" stroke="#222" stroke-width="1.0" />
<g fill="#000"><circle cx="361.18" cy="161.49" r="1.18"/><circle cx="359.8" cy="171.05" r="1.18"/><circle cx="363.12" cy="171.05" r="1.18"/><circle cx="351.08" cy="174.23" r="1.18"/><circle cx="354.26" cy="174.92" r="1.18"/><circle cx="357.72" cy="175.34" r="1.18"/><circle cx="361.18" cy="175.62" r="1.18"/><circle cx="364.65" cy="174.92" r="1.18"/><circle cx="368.11" cy="174.51" r="1.18"/><circle cx="371.57" cy="173.82" r="1.18"/><circle cx="353.15" cy="177.69" r="1.18"/><circle cx="356.34" cy="178.38" r="1.18"/><circle cx="359.8" cy="178.8" r="1.18"/><circle cx="363.12" cy="178.8" r="1.18"/><circle cx="366.31" cy="178.38" r="1.18"/><circle cx="369.49" cy="177.69" r="1.18"/><circle cx="351.35" cy="180.46" r="1.18"/><circle cx="354.54" cy="181.43" r="1.18"/><circle cx="358" cy="182.12" r="1.18"/><circle cx="361.46" cy="182.26" r="1.18"/><circle cx="364.65" cy="181.85" r="1.18"/><circle cx="367.69" cy="181.43" r="1.18"/><circle cx="370.74" cy="180.74" r="1.18"/></g>
<line x1="349.69" y1="177.28" x2="372.54" y2="177.28" stroke="#000" stroke-width="1.0" />
<g fill="#000"><circle cx="394" cy="153.18" r="1.18"/><circle cx="397.18" cy="154.85" r="1.18"/><circle cx="395.38" cy="165.51" r="1.18"/><circle cx="394" cy="171.05" r="1.18"/><circle cx="398.85" cy="171.88" r="1.18"/><circle cx="397.18" cy="174.92" r="1.18"/><circle cx="394" cy="177" r="1.18"/><circle cx="386.31" cy="178.38" r="1.18"/><circle cx="389.42" cy="178.94" r="1.18"/><circle cx="392.54" cy="179.63" r="1.18"/><circle cx="395.65" cy="179.91" r="1.18"/><circle cx="398.77" cy="179.22" r="1.18"/><circle cx="401.88" cy="178.38" r="1.18"/><circle cx="405" cy="177.35" r="1.18"/><circle cx="384.58" cy="180.25" r="1.18"/><circle cx="387.69" cy="181.02" r="1.18"/><circle cx="390.81" cy="181.71" r="1.18"/><circle cx="393.92" cy="182.4" r="1.18"/><circle cx="395.45" cy="182.82" r="1.18"/><circle cx="397.04" cy="182.26" r="1.18"/><circle cx="400.15" cy="181.57" r="1.18"/><circle cx="403.27" cy="180.95" r="1.18"/><circle cx="406.38" cy="180.32" r="1.18"/><circle cx="386.17" cy="180.46" r="1.18"/><circle cx="389.22" cy="181.29" r="1.18"/><circle cx="392.33" cy="181.98" r="1.18"/><circle cx="398.56" cy="181.85" r="1.18"/><circle cx="401.68" cy="181.15" r="1.18"/><circle cx="404.86" cy="180.53" r="1.18"/></g>
<line x1="384.31" y1="179.49" x2="407.15" y2="179.49" stroke="#000" stroke-width="1.0" />
<text x="324.5" y="147.2" font-size="6.63" text-anchor="middle" font-weight="bold" fill="#000" stroke="#000" stroke-width="0.3" transform="rotate(-90 324.5 147.2)" >LILRB1<tspan dy="-2.52" font-size="5.3">+</tspan><tspan dy="2.52"> NK/µL</tspan></text>
<text x="361.5" y="190.3" font-size="6.6" text-anchor="end" font-weight="bold" fill="#000" stroke="#000" stroke-width="0.3" transform="rotate(-45 361.5 190.3)" >pCR</text>
<text x="396.1" y="190.3" font-size="6.6" text-anchor="end" font-weight="bold" fill="#000" stroke="#000" stroke-width="0.3" transform="rotate(-45 396.1 190.3)" >Non-pCR</text>
<line x1="448.8" y1="113.05" x2="448.8" y2="183.65" stroke="#222" stroke-width="1.0" />
<line x1="447.2" y1="183.2" x2="519" y2="183.2" stroke="#222" stroke-width="1.0" />
<line x1="447.2" y1="183.2" x2="448.8" y2="183.2" stroke="#222" stroke-width="1.0" />
<text x="446.3" y="185.53" font-size="6.5" text-anchor="end" font-weight="bold" fill="#000" stroke="#000" stroke-width="0.3" >0</text>
<line x1="447.2" y1="165.77" x2="448.8" y2="165.77" stroke="#222" stroke-width="1.0" />
<text x="446.3" y="168.1" font-size="6.5" text-anchor="end" font-weight="bold" fill="#000" stroke="#000" stroke-width="0.3" >200</text>
<line x1="447.2" y1="148.35" x2="448.8" y2="148.35" stroke="#222" stroke-width="1.0" />
<text x="446.3" y="150.68" font-size="6.5" text-anchor="end" font-weight="bold" fill="#000" stroke="#000" stroke-width="0.3" >400</text>
<line x1="447.2" y1="130.93" x2="448.8" y2="130.93" stroke="#222" stroke-width="1.0" />
<text x="446.3" y="133.25" font-size="6.5" text-anchor="end" font-weight="bold" fill="#000" stroke="#000" stroke-width="0.3" >600</text>
<line x1="447.2" y1="113.5" x2="448.8" y2="113.5" stroke="#222" stroke-width="1.0" />
<text x="446.3" y="115.83" font-size="6.5" text-anchor="end" font-weight="bold" fill="#000" stroke="#000" stroke-width="0.3" >800</text>
<line x1="466.6" y1="183.2" x2="466.6" y2="185.2" stroke="#222" stroke-width="1.0" />
<line x1="501" y1="183.2" x2="501" y2="185.2" stroke="#222" stroke-width="1.0" />
<g fill="#000"><circle cx="466.25" cy="149.09" r="1.18"/><circle cx="466.25" cy="154.98" r="1.18"/><circle cx="466.25" cy="161.02" r="1.18"/><circle cx="466.25" cy="167.92" r="1.18"/><circle cx="460.22" cy="169.64" r="1.18"/><circle cx="463.09" cy="170.36" r="1.18"/><circle cx="469.56" cy="170.07" r="1.18"/><circle cx="472.72" cy="169.21" r="1.18"/><circle cx="456.91" cy="172.23" r="1.18"/><circle cx="460.22" cy="172.8" r="1.18"/><circle cx="463.09" cy="173.23" r="1.18"/><circle cx="466.25" cy="171.51" r="1.18"/><circle cx="469.56" cy="171.51" r="1.18"/><circle cx="472.72" cy="172.8" r="1.18"/><circle cx="476.02" cy="172.23" r="1.18"/><circle cx="458.78" cy="174.67" r="1.18"/><circle cx="461.65" cy="175.39" r="1.18"/><circle cx="464.81" cy="174.67" r="1.18"/><circle cx="468.12" cy="174.24" r="1.18"/><circle cx="470.99" cy="174.96" r="1.18"/><circle cx="474.59" cy="174.24" r="1.18"/><circle cx="456.91" cy="176.4" r="1.18"/><circle cx="460.22" cy="177.26" r="1.18"/><circle cx="463.09" cy="178.26" r="1.18"/><circle cx="466.25" cy="176.83" r="1.18"/><circle cx="469.56" cy="177.54" r="1.18"/><circle cx="472.72" cy="176.83" r="1.18"/><circle cx="476.02" cy="176.11" r="1.18"/><circle cx="464.81" cy="180.42" r="1.18"/><circle cx="468.12" cy="179.99" r="1.18"/><circle cx="466.25" cy="181.86" r="1.18"/></g>
<line x1="455.19" y1="172.23" x2="477.46" y2="172.23" stroke="#000" stroke-width="1.0" />
<g fill="#000"><circle cx="500.46" cy="126.53" r="1.18"/><circle cx="499.02" cy="133.71" r="1.18"/><circle cx="502.32" cy="133.71" r="1.18"/><circle cx="500.46" cy="139.46" r="1.18"/><circle cx="500.46" cy="143.34" r="1.18"/><circle cx="503.76" cy="148.51" r="1.18"/><circle cx="497.29" cy="150.24" r="1.18"/><circle cx="500.46" cy="150.96" r="1.18"/><circle cx="497.29" cy="158.14" r="1.18"/><circle cx="500.46" cy="158.86" r="1.18"/><circle cx="503.76" cy="158.14" r="1.18"/><circle cx="495.86" cy="162.02" r="1.18"/><circle cx="499.02" cy="164.32" r="1.18"/><circle cx="502.32" cy="163.89" r="1.18"/><circle cx="505.49" cy="163.89" r="1.18"/><circle cx="497.29" cy="166.77" r="1.18"/><circle cx="500.46" cy="166.34" r="1.18"/><circle cx="503.76" cy="166.77" r="1.18"/><circle cx="492.55" cy="168.2" r="1.18"/><circle cx="495.86" cy="168.92" r="1.18"/><circle cx="506.92" cy="168.92" r="1.18"/><circle cx="510.08" cy="168.63" r="1.18"/><circle cx="499.02" cy="170.36" r="1.18"/><circle cx="502.32" cy="171.51" r="1.18"/><circle cx="505.49" cy="170.65" r="1.18"/><circle cx="497.29" cy="172.51" r="1.18"/><circle cx="508.36" cy="172.51" r="1.18"/><circle cx="500.46" cy="173.52" r="1.18"/><circle cx="503.76" cy="172.51" r="1.18"/><circle cx="495.86" cy="174.96" r="1.18"/><circle cx="499.02" cy="175.82" r="1.18"/><circle cx="506.92" cy="174.96" r="1.18"/><circle cx="497.29" cy="177.83" r="1.18"/><circle cx="500.46" cy="177.26" r="1.18"/><circle cx="503.76" cy="177.83" r="1.18"/><circle cx="505.49" cy="176.4" r="1.18"/><circle cx="495.86" cy="178.69" r="1.18"/><circle cx="502.32" cy="179.7" r="1.18"/><circle cx="499.02" cy="181.14" r="1.18"/></g>
<line x1="488.96" y1="163.17" x2="511.95" y2="163.17" stroke="#000" stroke-width="1.0" />
<text x="430.3" y="148.6" font-size="7.11" text-anchor="middle" font-weight="bold" fill="#000" stroke="#000" stroke-width="0.18" transform="rotate(-90 430.3 148.6)" >CD57<tspan dy="-2.7" font-size="5.69">+</tspan><tspan dy="2.7"> NK Cells/µL</tspan></text>
<text x="466.9" y="190.3" font-size="6.6" text-anchor="end" font-weight="bold" fill="#000" stroke="#000" stroke-width="0.3" transform="rotate(-45 466.9 190.3)" >pCR</text>
<text x="501.3" y="190.3" font-size="6.6" text-anchor="end" font-weight="bold" fill="#000" stroke="#000" stroke-width="0.3" transform="rotate(-45 501.3 190.3)" >Non-pCR</text>
<line x1="360.4" y1="26.8" x2="394.2" y2="26.8" stroke="#000" stroke-width="1.3" />
<text x="377.3" y="24.5" font-size="8.6" text-anchor="middle" font-weight="bold" fill="#000" stroke="#000" stroke-width="0.18" >0.037</text>
<line x1="462.6" y1="26.9" x2="496.8" y2="26.9" stroke="#000" stroke-width="1.3" />
<text x="479.7" y="24.6" font-size="8.6" text-anchor="middle" font-weight="bold" fill="#000" stroke="#000" stroke-width="0.18" >0.002</text>
<line x1="465" y1="121.8" x2="499" y2="121.8" stroke="#000" stroke-width="1.3" />
<text x="482" y="119.5" font-size="8.6" text-anchor="middle" font-weight="bold" fill="#000" stroke="#000" stroke-width="0.18" >0.007</text>
<line x1="33.7" y1="266.65" x2="33.7" y2="339.55" stroke="#555" stroke-width="1.0" />
<line x1="32.1" y1="339.1" x2="133.3" y2="339.1" stroke="#555" stroke-width="1.0" />
<line x1="32.1" y1="339.1" x2="33.7" y2="339.1" stroke="#555" stroke-width="1.0" />
<text x="31.2" y="341.96" font-size="8" text-anchor="end" font-weight="normal" fill="#000" stroke="#000" stroke-width="0.25" >0</text>
<line x1="32.1" y1="324.7" x2="33.7" y2="324.7" stroke="#555" stroke-width="1.0" />
<text x="31.2" y="327.56" font-size="8" text-anchor="end" font-weight="normal" fill="#000" stroke="#000" stroke-width="0.25" >20</text>
<line x1="32.1" y1="310.3" x2="33.7" y2="310.3" stroke="#555" stroke-width="1.0" />
<text x="31.2" y="313.16" font-size="8" text-anchor="end" font-weight="normal" fill="#000" stroke="#000" stroke-width="0.25" >40</text>
<line x1="32.1" y1="295.9" x2="33.7" y2="295.9" stroke="#555" stroke-width="1.0" />
<text x="31.2" y="298.76" font-size="8" text-anchor="end" font-weight="normal" fill="#000" stroke="#000" stroke-width="0.25" >60</text>
<line x1="32.1" y1="281.5" x2="33.7" y2="281.5" stroke="#555" stroke-width="1.0" />
<text x="31.2" y="284.36" font-size="8" text-anchor="end" font-weight="normal" fill="#000" stroke="#000" stroke-width="0.25" >80</text>
<line x1="32.1" y1="267.1" x2="33.7" y2="267.1" stroke="#555" stroke-width="1.0" />
<text x="31.2" y="269.96" font-size="8" text-anchor="end" font-weight="normal" fill="#000" stroke="#000" stroke-width="0.25" >100</text>
<line x1="50.6" y1="339.1" x2="50.6" y2="341.1" stroke="#555" stroke-width="1.0" />
<line x1="83.8" y1="339.1" x2="83.8" y2="341.1" stroke="#555" stroke-width="1.0" />
<line x1="117" y1="339.1" x2="117" y2="341.1" stroke="#555" stroke-width="1.0" />
<g fill="#000"><circle cx="49.38" cy="276" r="1.18"/><circle cx="52.43" cy="276" r="1.18"/><circle cx="49.38" cy="279.74" r="1.18"/><circle cx="51.88" cy="281.54" r="1.18"/><circle cx="48" cy="286.38" r="1.18"/><circle cx="50.77" cy="287.08" r="1.18"/><circle cx="53.82" cy="286.38" r="1.18"/><circle cx="41.35" cy="288.18" r="1.18"/><circle cx="44.54" cy="289.15" r="1.18"/><circle cx="47.72" cy="290.12" r="1.18"/><circle cx="50.77" cy="290.54" r="1.18"/><circle cx="53.82" cy="290.54" r="1.18"/><circle cx="57" cy="289.85" r="1.18"/><circle cx="59.77" cy="288.74" r="1.18"/><circle cx="49.38" cy="291.23" r="1.18"/><circle cx="52.15" cy="291.23" r="1.18"/><circle cx="48" cy="294.69" r="1.18"/><circle cx="50.77" cy="297.46" r="1.18"/><circle cx="53.82" cy="297.46" r="1.18"/><circle cx="50.77" cy="301.62" r="1.18"/><circle cx="50.77" cy="306.74" r="1.18"/></g>
<line x1="39.69" y1="288.74" x2="61.85" y2="288.74" stroke="#000" stroke-width="1.0" />
<g fill="#000"><circle cx="84" cy="279.18" r="1.18"/><circle cx="82.34" cy="283.62" r="1.18"/><circle cx="85.38" cy="286.38" r="1.18"/><circle cx="80.95" cy="290.54" r="1.18"/><circle cx="84" cy="291.65" r="1.18"/><circle cx="87.18" cy="291.23" r="1.18"/><circle cx="84" cy="298.15" r="1.18"/><circle cx="85.38" cy="301.62" r="1.18"/><circle cx="82.34" cy="303.69" r="1.18"/><circle cx="87.18" cy="308.54" r="1.18"/><circle cx="80.95" cy="309.92" r="1.18"/><circle cx="84" cy="310.34" r="1.18"/><circle cx="85.38" cy="312" r="1.18"/><circle cx="82.34" cy="314.77" r="1.18"/></g>
<line x1="72.92" y1="298.57" x2="95.08" y2="298.57" stroke="#333" stroke-width="1.0" />
<g fill="#000"><circle cx="117.08" cy="285.42" r="1.18"/><circle cx="118.46" cy="287.08" r="1.18"/><circle cx="115.69" cy="289.15" r="1.18"/><circle cx="114.03" cy="293.72" r="1.18"/><circle cx="120.12" cy="293.31" r="1.18"/><circle cx="117.08" cy="296.08" r="1.18"/><circle cx="111.12" cy="297.18" r="1.18"/><circle cx="114.03" cy="299.26" r="1.18"/><circle cx="117.08" cy="299.54" r="1.18"/><circle cx="121.51" cy="299.26" r="1.18"/><circle cx="124.69" cy="298.15" r="1.18"/><circle cx="120.12" cy="300.23" r="1.18"/><circle cx="108.08" cy="304.38" r="1.18"/><circle cx="111.12" cy="305.77" r="1.18"/><circle cx="114.03" cy="302.58" r="1.18"/><circle cx="117.08" cy="302.58" r="1.18"/><circle cx="121.51" cy="305.77" r="1.18"/><circle cx="124.69" cy="304.38" r="1.18"/><circle cx="127.46" cy="303" r="1.18"/><circle cx="114.03" cy="307.15" r="1.18"/><circle cx="118.46" cy="306.46" r="1.18"/><circle cx="115.69" cy="308.54" r="1.18"/><circle cx="118.46" cy="311.31" r="1.18"/><circle cx="115.69" cy="316.43" r="1.18"/><circle cx="118.46" cy="316.43" r="1.18"/><circle cx="117.08" cy="321.42" r="1.18"/><circle cx="117.08" cy="325.85" r="1.18"/></g>
<line x1="106.28" y1="303" x2="127.88" y2="303" stroke="#333" stroke-width="1.0" />
<text x="13" y="304.3" font-size="7.78" text-anchor="middle" font-weight="bold" fill="#000" stroke="#000" stroke-width="0.18" transform="rotate(-90 13 304.3)" >% CD57<tspan dy="-2.96" font-size="6.22">+</tspan><tspan dy="2.96"> NK</tspan></text>
<text x="52.2" y="347.6" font-size="8" text-anchor="end" font-weight="normal" fill="#000" stroke="#000" stroke-width="0.4" transform="rotate(-45 52.2 347.6)" >G1–3</text>
<text x="85.4" y="347.6" font-size="8" text-anchor="end" font-weight="normal" fill="#000" stroke="#000" stroke-width="0.4" transform="rotate(-45 85.4 347.6)" >G4</text>
<text x="118.6" y="347.6" font-size="8" text-anchor="end" font-weight="normal" fill="#000" stroke="#000" stroke-width="0.4" transform="rotate(-45 118.6 347.6)" >G5</text>
<line x1="49.6" y1="265.3" x2="118.5" y2="265.3" stroke="#000" stroke-width="1.0" />
<text x="83.1" y="263.1" font-size="8.7" text-anchor="middle" font-weight="bold" fill="#000" stroke="#000" stroke-width="0.18" >&lt;0.0001</text>
<text x="1.4" y="250.4" font-size="12.6" text-anchor="start" font-weight="bold" fill="#000" stroke="#000" stroke-width="0.18" >B</text>
<line x1="188.5" y1="251.85" x2="188.5" y2="342.75" stroke="#333" stroke-width="1.0" />
<line x1="186.7" y1="342.3" x2="188.5" y2="342.3" stroke="#333" stroke-width="1.0" />
<text x="185.7" y="344.7" font-size="6.6" text-anchor="end" font-weight="bold" fill="#000" stroke="#000" stroke-width="0.3" >0</text>
<line x1="186.7" y1="324.3" x2="188.5" y2="324.3" stroke="#333" stroke-width="1.0" />
<text x="185.7" y="326.7" font-size="6.6" text-anchor="end" font-weight="bold" fill="#000" stroke="#000" stroke-width="0.3" >20</text>
<line x1="186.7" y1="306.3" x2="188.5" y2="306.3" stroke="#333" stroke-width="1.0" />
<text x="185.7" y="308.7" font-size="6.6" text-anchor="end" font-weight="bold" fill="#000" stroke="#000" stroke-width="0.3" >40</text>
<line x1="186.7" y1="288.3" x2="188.5" y2="288.3" stroke="#333" stroke-width="1.0" />
<text x="185.7" y="290.7" font-size="6.6" text-anchor="end" font-weight="bold" fill="#000" stroke="#000" stroke-width="0.3" >60</text>
<line x1="186.7" y1="270.3" x2="188.5" y2="270.3" stroke="#333" stroke-width="1.0" />
<text x="185.7" y="272.7" font-size="6.6" text-anchor="end" font-weight="bold" fill="#000" stroke="#000" stroke-width="0.3" >80</text>
<line x1="186.7" y1="252.3" x2="188.5" y2="252.3" stroke="#333" stroke-width="1.0" />
<text x="185.7" y="254.7" font-size="6.6" text-anchor="end" font-weight="bold" fill="#000" stroke="#000" stroke-width="0.3" >100</text>
<rect x="194.8" y="287.9" width="24" height="54.4" fill="#5a5a5a" stroke="#444" stroke-width="0.5"/>
<line x1="206.8" y1="342.3" x2="206.8" y2="344.3" stroke="#333" stroke-width="1.0" />
<rect x="228.9" y="330.2" width="23.7" height="12.1" fill="#5a5a5a" stroke="#444" stroke-width="0.5"/>
<line x1="240.75" y1="342.3" x2="240.75" y2="344.3" stroke="#333" stroke-width="1.0" />
<rect x="262.7" y="285.2" width="23.6" height="57.1" fill="#5a5a5a" stroke="#444" stroke-width="0.5"/>
<line x1="274.5" y1="342.3" x2="274.5" y2="344.3" stroke="#333" stroke-width="1.0" />
<rect x="296.6" y="327.5" width="23.4" height="14.8" fill="#5a5a5a" stroke="#444" stroke-width="0.5"/>
<line x1="308.3" y1="342.3" x2="308.3" y2="344.3" stroke="#333" stroke-width="1.0" />
<line x1="186.7" y1="342.3" x2="324.8" y2="342.3" stroke="#333" stroke-width="1.0" />
<line x1="258.2" y1="252.3" x2="258.2" y2="342.3" stroke="#333" stroke-width="0.7" stroke-dasharray="0.9 1.1"/>
<text x="167.8" y="298.6" font-size="8.2" text-anchor="middle" font-weight="normal" fill="#000" stroke="#000" stroke-width="0.45" transform="rotate(-90 167.8 298.6)" >pCR Rate</text>
<text x="207.4" y="348.3" font-size="6.7" text-anchor="end" font-weight="bold" fill="#000" stroke="#000" stroke-width="0.3" transform="rotate(-45 207.4 348.3)" >CD57 Low</text>
<text x="241.35" y="348.3" font-size="6.7" text-anchor="end" font-weight="bold" fill="#000" stroke="#000" stroke-width="0.3" transform="rotate(-45 241.35 348.3)" >CD57 High</text>
<text x="275.1" y="348.3" font-size="6.7" text-anchor="end" font-weight="bold" fill="#000" stroke="#000" stroke-width="0.3" transform="rotate(-45 275.1 348.3)" >CD57 Low</text>
<text x="308.9" y="348.3" font-size="6.7" text-anchor="end" font-weight="bold" fill="#000" stroke="#000" stroke-width="0.3" transform="rotate(-45 308.9 348.3)" >CD57 High</text>
<text x="157.3" y="250.4" font-size="12.6" text-anchor="start" font-weight="bold" fill="#000" stroke="#000" stroke-width="0.18" >C</text>
<text x="192.8" y="258.9" font-size="7.2" text-anchor="start" font-weight="bold" fill="#000" stroke="#000" stroke-width="0.18" >&lt;65% CD57<tspan dy="-2.74" font-size="5.76">+</tspan><tspan dy="2.74"> NK</tspan></text>
<text x="192.8" y="267.9" font-size="7.2" text-anchor="start" font-weight="bold" fill="#000" stroke="#000" stroke-width="0.18" >OR 10.2 (2.5–40.5)</text>
<text x="193.4" y="276.5" font-size="7.2" text-anchor="start" font-weight="bold" fill="#000" stroke="#000" stroke-width="0.18" ><tspan font-style="italic">P</tspan> = 0.0004</text>
<text x="263.7" y="258.9" font-size="7.2" text-anchor="start" font-weight="bold" fill="#000" stroke="#000" stroke-width="0.18" >&lt;164 Cells/µL CD57<tspan dy="-2.74" font-size="5.76">+</tspan><tspan dy="2.74"> NK</tspan></text>
<text x="264.4" y="267.9" font-size="7.2" text-anchor="start" font-weight="bold" fill="#000" stroke="#000" stroke-width="0.18" >OR 8.8 (2.5–31.5)</text>
<text x="265" y="276.5" font-size="7.2" text-anchor="start" font-weight="bold" fill="#000" stroke="#000" stroke-width="0.18" ><tspan font-style="italic">P</tspan> = 0.0005</text>
<line x1="25.3" y1="411" x2="25.3" y2="507.35" stroke="#000" stroke-width="0.9" />
<line x1="24.85" y1="506.9" x2="157.75" y2="506.9" stroke="#000" stroke-width="0.9" />
<line x1="23.3" y1="506.9" x2="25.3" y2="506.9" stroke="#000" stroke-width="0.9" />
<text x="22.5" y="509.15" font-size="6.3" text-anchor="end" font-weight="bold" fill="#000" stroke="#000" stroke-width="0.3" >0.0</text>
<line x1="23.3" y1="487.8" x2="25.3" y2="487.8" stroke="#000" stroke-width="0.9" />
<text x="22.5" y="490.05" font-size="6.3" text-anchor="end" font-weight="bold" fill="#000" stroke="#000" stroke-width="0.3" >0.2</text>
<line x1="23.3" y1="468.7" x2="25.3" y2="468.7" stroke="#000" stroke-width="0.9" />
<text x="22.5" y="470.95" font-size="6.3" text-anchor="end" font-weight="bold" fill="#000" stroke="#000" stroke-width="0.3" >0.4</text>
<line x1="23.3" y1="449.6" x2="25.3" y2="449.6" stroke="#000" stroke-width="0.9" />
<text x="22.5" y="451.85" font-size="6.3" text-anchor="end" font-weight="bold" fill="#000" stroke="#000" stroke-width="0.3" >0.6</text>
<line x1="23.3" y1="430.5" x2="25.3" y2="430.5" stroke="#000" stroke-width="0.9" />
<text x="22.5" y="432.75" font-size="6.3" text-anchor="end" font-weight="bold" fill="#000" stroke="#000" stroke-width="0.3" >0.8</text>
<line x1="23.3" y1="411.4" x2="25.3" y2="411.4" stroke="#000" stroke-width="0.9" />
<text x="22.5" y="413.65" font-size="6.3" text-anchor="end" font-weight="bold" fill="#000" stroke="#000" stroke-width="0.3" >1.0</text>
<line x1="25.3" y1="506.9" x2="25.3" y2="508.9" stroke="#000" stroke-width="0.9" />
<text x="25.3" y="517.5" font-size="6.3" text-anchor="middle" font-weight="bold" fill="#000" stroke="#000" stroke-width="0.3" >0</text>
<line x1="58.3" y1="506.9" x2="58.3" y2="508.9" stroke="#000" stroke-width="0.9" />
<text x="58.3" y="517.5" font-size="6.3" text-anchor="middle" font-weight="bold" fill="#000" stroke="#000" stroke-width="0.3" >20</text>
<line x1="91.3" y1="506.9" x2="91.3" y2="508.9" stroke="#000" stroke-width="0.9" />
<text x="91.3" y="517.5" font-size="6.3" text-anchor="middle" font-weight="bold" fill="#000" stroke="#000" stroke-width="0.3" >40</text>
<line x1="124.3" y1="506.9" x2="124.3" y2="508.9" stroke="#000" stroke-width="0.9" />
<text x="124.3" y="517.5" font-size="6.3" text-anchor="middle" font-weight="bold" fill="#000" stroke="#000" stroke-width="0.3" >60</text>
<line x1="157.3" y1="506.9" x2="157.3" y2="508.9" stroke="#000" stroke-width="0.9" />
<text x="157.3" y="517.5" font-size="6.3" text-anchor="middle" font-weight="bold" fill="#000" stroke="#000" stroke-width="0.3" >80</text>
<text x="91.3" y="527.3" font-size="7.2" text-anchor="middle" font-weight="bold" fill="#000" stroke="#000" stroke-width="0.18" >Months</text>
<text x="6.4" y="460.95" font-size="7.2" text-anchor="middle" font-weight="bold" fill="#000" stroke="#000" stroke-width="0.18" transform="rotate(-90 6.4 460.95)" >DFS</text>
<text x="1.5" y="404.6" font-size="12.6" text-anchor="start" font-weight="bold" fill="#000" stroke="#000" stroke-width="0.18" >D</text>
<path d="M25.3 411.4 L118.52 411.4" fill="none" stroke="#8a8a8a" stroke-width="0.8" stroke-linejoin="miter"/>
<path d="M57.47 411.4 L57.47 414.26 L60.78 414.26 L60.78 417.61 L69.85 417.61 L69.85 422.38 L73.15 422.38 L73.15 427.63 L100.04 427.63 L100.04 467.27 L136.34 467.27" fill="none" stroke="#000" stroke-width="1.5" stroke-linejoin="miter"/>
<line x1="45.43" y1="409.8" x2="45.43" y2="411.6" stroke="#111" stroke-width="1.0" />
<line x1="50.05" y1="409.8" x2="50.05" y2="411.6" stroke="#111" stroke-width="1.0" />
<line x1="53.52" y1="409.8" x2="53.52" y2="411.6" stroke="#111" stroke-width="1.0" />
<line x1="55.83" y1="409.8" x2="55.83" y2="411.6" stroke="#111" stroke-width="1.0" />
<line x1="57.97" y1="409.8" x2="57.97" y2="411.6" stroke="#111" stroke-width="1.0" />
<line x1="60.44" y1="409.8" x2="60.44" y2="411.6" stroke="#111" stroke-width="1.0" />
<line x1="62.09" y1="409.8" x2="62.09" y2="411.6" stroke="#111" stroke-width="1.0" />
<line x1="63.75" y1="409.8" x2="63.75" y2="411.6" stroke="#111" stroke-width="1.0" />
<line x1="65.39" y1="409.8" x2="65.39" y2="411.6" stroke="#111" stroke-width="1.0" />
<line x1="67.38" y1="409.8" x2="67.38" y2="411.6" stroke="#111" stroke-width="1.0" />
<line x1="73.64" y1="409.8" x2="73.64" y2="411.6" stroke="#111" stroke-width="1.0" />
<line x1="75.13" y1="409.8" x2="75.13" y2="411.6" stroke="#111" stroke-width="1.0" />
<line x1="79.75" y1="409.8" x2="79.75" y2="411.6" stroke="#111" stroke-width="1.0" />
<line x1="81.4" y1="409.8" x2="81.4" y2="411.6" stroke="#111" stroke-width="1.0" />
<line x1="91.46" y1="409.8" x2="91.46" y2="411.6" stroke="#111" stroke-width="1.0" />
<line x1="97.9" y1="409.8" x2="97.9" y2="411.6" stroke="#111" stroke-width="1.0" />
<line x1="104.99" y1="409.8" x2="104.99" y2="411.6" stroke="#111" stroke-width="1.0" />
<line x1="115.72" y1="409.8" x2="115.72" y2="411.6" stroke="#111" stroke-width="1.0" />
<line x1="118.03" y1="409.8" x2="118.03" y2="411.6" stroke="#111" stroke-width="1.0" />
<line x1="59.12" y1="412.37" x2="59.12" y2="414.26" stroke="#000" stroke-width="1.0" />
<line x1="64.9" y1="415.71" x2="64.9" y2="417.61" stroke="#000" stroke-width="1.0" />
<line x1="74.8" y1="425.74" x2="74.8" y2="427.63" stroke="#000" stroke-width="1.0" />
<line x1="78.1" y1="425.74" x2="78.1" y2="427.63" stroke="#000" stroke-width="1.0" />
<line x1="80.58" y1="425.74" x2="80.58" y2="427.63" stroke="#000" stroke-width="1.0" />
<line x1="83.05" y1="425.74" x2="83.05" y2="427.63" stroke="#000" stroke-width="1.0" />
<line x1="85.52" y1="425.74" x2="85.52" y2="427.63" stroke="#000" stroke-width="1.0" />
<line x1="88" y1="425.74" x2="88" y2="427.63" stroke="#000" stroke-width="1.0" />
<line x1="90.47" y1="425.74" x2="90.47" y2="427.63" stroke="#000" stroke-width="1.0" />
<line x1="97.07" y1="425.74" x2="97.07" y2="427.63" stroke="#000" stroke-width="1.0" />
<line x1="136.34" y1="465.37" x2="136.34" y2="467.27" stroke="#000" stroke-width="1.0" />
<line x1="32.9" y1="457.3" x2="42.4" y2="457.3" stroke="#8a8a8a" stroke-width="0.8" />
<line x1="37.6" y1="455.8" x2="37.6" y2="457.3" stroke="#333" stroke-width="0.8" />
<line x1="32.9" y1="468.9" x2="42.4" y2="468.9" stroke="#000" stroke-width="1.5" />
<line x1="37.6" y1="467.1" x2="37.6" y2="468.9" stroke="#000" stroke-width="0.9" />
<text x="47.6" y="459.7" font-size="7.2" text-anchor="start" font-weight="bold" fill="#000" stroke="#000" stroke-width="0.18" >pCR</text>
<text x="47.6" y="471.3" font-size="7.2" text-anchor="start" font-weight="bold" fill="#000" stroke="#000" stroke-width="0.18" >Non-pCR</text>
<text x="29.7" y="494.4" font-size="7.35" text-anchor="start" font-weight="bold" fill="#000" stroke="#000" stroke-width="0.18" >HR 0.16 (95%CI: 0.02–0.9)</text>
<text x="29.7" y="503.2" font-size="7.35" text-anchor="start" font-weight="bold" fill="#000" stroke="#000" stroke-width="0.18" ><tspan font-style="italic">P</tspan> = 0.04 Log rank</text>
<line x1="205.6" y1="411" x2="205.6" y2="507.35" stroke="#000" stroke-width="0.9" />
<line x1="205.15" y1="506.9" x2="338.05" y2="506.9" stroke="#000" stroke-width="0.9" />
<line x1="203.6" y1="506.9" x2="205.6" y2="506.9" stroke="#000" stroke-width="0.9" />
<text x="202.8" y="509.15" font-size="6.3" text-anchor="end" font-weight="bold" fill="#000" stroke="#000" stroke-width="0.3" >0.0</text>
<line x1="203.6" y1="487.8" x2="205.6" y2="487.8" stroke="#000" stroke-width="0.9" />
<text x="202.8" y="490.05" font-size="6.3" text-anchor="end" font-weight="bold" fill="#000" stroke="#000" stroke-width="0.3" >0.2</text>
<line x1="203.6" y1="468.7" x2="205.6" y2="468.7" stroke="#000" stroke-width="0.9" />
<text x="202.8" y="470.95" font-size="6.3" text-anchor="end" font-weight="bold" fill="#000" stroke="#000" stroke-width="0.3" >0.4</text>
<line x1="203.6" y1="449.6" x2="205.6" y2="449.6" stroke="#000" stroke-width="0.9" />
<text x="202.8" y="451.85" font-size="6.3" text-anchor="end" font-weight="bold" fill="#000" stroke="#000" stroke-width="0.3" >0.6</text>
<line x1="203.6" y1="430.5" x2="205.6" y2="430.5" stroke="#000" stroke-width="0.9" />
<text x="202.8" y="432.75" font-size="6.3" text-anchor="end" font-weight="bold" fill="#000" stroke="#000" stroke-width="0.3" >0.8</text>
<line x1="203.6" y1="411.4" x2="205.6" y2="411.4" stroke="#000" stroke-width="0.9" />
<text x="202.8" y="413.65" font-size="6.3" text-anchor="end" font-weight="bold" fill="#000" stroke="#000" stroke-width="0.3" >1.0</text>
<line x1="205.6" y1="506.9" x2="205.6" y2="508.9" stroke="#000" stroke-width="0.9" />
<text x="205.6" y="517.5" font-size="6.3" text-anchor="middle" font-weight="bold" fill="#000" stroke="#000" stroke-width="0.3" >0</text>
<line x1="238.6" y1="506.9" x2="238.6" y2="508.9" stroke="#000" stroke-width="0.9" />
<text x="238.6" y="517.5" font-size="6.3" text-anchor="middle" font-weight="bold" fill="#000" stroke="#000" stroke-width="0.3" >20</text>
<line x1="271.6" y1="506.9" x2="271.6" y2="508.9" stroke="#000" stroke-width="0.9" />
<text x="271.6" y="517.5" font-size="6.3" text-anchor="middle" font-weight="bold" fill="#000" stroke="#000" stroke-width="0.3" >40</text>
<line x1="304.6" y1="506.9" x2="304.6" y2="508.9" stroke="#000" stroke-width="0.9" />
<text x="304.6" y="517.5" font-size="6.3" text-anchor="middle" font-weight="bold" fill="#000" stroke="#000" stroke-width="0.3" >60</text>
<line x1="337.6" y1="506.9" x2="337.6" y2="508.9" stroke="#000" stroke-width="0.9" />
<text x="337.6" y="517.5" font-size="6.3" text-anchor="middle" font-weight="bold" fill="#000" stroke="#000" stroke-width="0.3" >80</text>
<text x="271.6" y="527.3" font-size="7.2" text-anchor="middle" font-weight="bold" fill="#000" stroke="#000" stroke-width="0.18" >Months</text>
<text x="186.7" y="460.95" font-size="7.2" text-anchor="middle" font-weight="bold" fill="#000" stroke="#000" stroke-width="0.18" transform="rotate(-90 186.7 460.95)" >DFS</text>
<text x="176" y="402.9" font-size="12.6" text-anchor="start" font-weight="bold" fill="#000" stroke="#000" stroke-width="0.18" >E</text>
<path d="M205.6 411.4 L240.25 411.4 L240.25 414.74 L316.98 414.74" fill="none" stroke="#8a8a8a" stroke-width="0.8" stroke-linejoin="miter"/>
<path d="M238.76 411.4 L238.76 415.7 L250.31 415.7 L250.31 421.24 L253.45 421.24 L253.45 428.02 L280.34 428.02 L280.34 467.27 L295.19 467.27" fill="none" stroke="#000" stroke-width="1.5" stroke-linejoin="miter"/>
<line x1="225.4" y1="409.8" x2="225.4" y2="411.6" stroke="#111" stroke-width="1.0" />
<line x1="230.35" y1="409.8" x2="230.35" y2="411.6" stroke="#111" stroke-width="1.0" />
<line x1="233.65" y1="409.8" x2="233.65" y2="411.6" stroke="#111" stroke-width="1.0" />
<line x1="235.3" y1="409.8" x2="235.3" y2="411.6" stroke="#111" stroke-width="1.0" />
<line x1="236.95" y1="409.8" x2="236.95" y2="411.6" stroke="#111" stroke-width="1.0" />
<line x1="238.6" y1="409.8" x2="238.6" y2="411.6" stroke="#111" stroke-width="1.0" />
<line x1="241.9" y1="413.14" x2="241.9" y2="414.94" stroke="#111" stroke-width="1.0" />
<line x1="243.55" y1="413.14" x2="243.55" y2="414.94" stroke="#111" stroke-width="1.0" />
<line x1="245.2" y1="413.14" x2="245.2" y2="414.94" stroke="#111" stroke-width="1.0" />
<line x1="246.85" y1="413.14" x2="246.85" y2="414.94" stroke="#111" stroke-width="1.0" />
<line x1="248.5" y1="413.14" x2="248.5" y2="414.94" stroke="#111" stroke-width="1.0" />
<line x1="251.8" y1="413.14" x2="251.8" y2="414.94" stroke="#111" stroke-width="1.0" />
<line x1="254.27" y1="413.14" x2="254.27" y2="414.94" stroke="#111" stroke-width="1.0" />
<line x1="255.92" y1="413.14" x2="255.92" y2="414.94" stroke="#111" stroke-width="1.0" />
<line x1="260.05" y1="413.14" x2="260.05" y2="414.94" stroke="#111" stroke-width="1.0" />
<line x1="261.7" y1="413.14" x2="261.7" y2="414.94" stroke="#111" stroke-width="1.0" />
<line x1="271.6" y1="413.14" x2="271.6" y2="414.94" stroke="#111" stroke-width="1.0" />
<line x1="276.55" y1="413.14" x2="276.55" y2="414.94" stroke="#111" stroke-width="1.0" />
<line x1="278.2" y1="413.14" x2="278.2" y2="414.94" stroke="#111" stroke-width="1.0" />
<line x1="284.8" y1="413.14" x2="284.8" y2="414.94" stroke="#111" stroke-width="1.0" />
<line x1="298" y1="413.14" x2="298" y2="414.94" stroke="#111" stroke-width="1.0" />
<line x1="316.98" y1="413.14" x2="316.98" y2="414.94" stroke="#111" stroke-width="1.0" />
<line x1="240.25" y1="413.8" x2="240.25" y2="415.7" stroke="#000" stroke-width="1.0" />
<line x1="243.55" y1="413.8" x2="243.55" y2="415.7" stroke="#000" stroke-width="1.0" />
<line x1="246.85" y1="413.8" x2="246.85" y2="415.7" stroke="#000" stroke-width="1.0" />
<line x1="256.75" y1="426.12" x2="256.75" y2="428.02" stroke="#000" stroke-width="1.0" />
<line x1="260.05" y1="426.12" x2="260.05" y2="428.02" stroke="#000" stroke-width="1.0" />
<line x1="263.35" y1="426.12" x2="263.35" y2="428.02" stroke="#000" stroke-width="1.0" />
<line x1="265.82" y1="426.12" x2="265.82" y2="428.02" stroke="#000" stroke-width="1.0" />
<line x1="268.3" y1="426.12" x2="268.3" y2="428.02" stroke="#000" stroke-width="1.0" />
<line x1="278.2" y1="426.12" x2="278.2" y2="428.02" stroke="#000" stroke-width="1.0" />
<line x1="295.19" y1="465.37" x2="295.19" y2="467.27" stroke="#000" stroke-width="1.0" />
<line x1="209.7" y1="463" x2="219.2" y2="463" stroke="#8a8a8a" stroke-width="0.8" />
<line x1="214.4" y1="461.5" x2="214.4" y2="463" stroke="#333" stroke-width="0.8" />
<line x1="209.7" y1="473.3" x2="219.2" y2="473.3" stroke="#000" stroke-width="1.5" />
<line x1="214.4" y1="471.5" x2="214.4" y2="473.3" stroke="#000" stroke-width="0.9" />
<text x="224.4" y="465.4" font-size="7.2" text-anchor="start" font-weight="bold" fill="#000" stroke="#000" stroke-width="0.18" >CD57&lt; 65%</text>
<text x="224.4" y="475.7" font-size="7.2" text-anchor="start" font-weight="bold" fill="#000" stroke="#000" stroke-width="0.18" >CD57≥ 65%</text>
<text x="210" y="494.4" font-size="7.35" text-anchor="start" font-weight="bold" fill="#000" stroke="#000" stroke-width="0.18" >HR 0.19 (95%CI: 0.03–1.9)</text>
<text x="210" y="503.2" font-size="7.35" text-anchor="start" font-weight="bold" fill="#000" stroke="#000" stroke-width="0.18" ><tspan font-style="italic">P</tspan> = 0.09 Log rank</text>
<line x1="383" y1="411" x2="383" y2="507.35" stroke="#000" stroke-width="0.9" />
<line x1="382.55" y1="506.9" x2="515.45" y2="506.9" stroke="#000" stroke-width="0.9" />
<line x1="381" y1="506.9" x2="383" y2="506.9" stroke="#000" stroke-width="0.9" />
<text x="380.2" y="509.15" font-size="6.3" text-anchor="end" font-weight="bold" fill="#000" stroke="#000" stroke-width="0.3" >0.0</text>
<line x1="381" y1="487.8" x2="383" y2="487.8" stroke="#000" stroke-width="0.9" />
<text x="380.2" y="490.05" font-size="6.3" text-anchor="end" font-weight="bold" fill="#000" stroke="#000" stroke-width="0.3" >0.2</text>
<line x1="381" y1="468.7" x2="383" y2="468.7" stroke="#000" stroke-width="0.9" />
<text x="380.2" y="470.95" font-size="6.3" text-anchor="end" font-weight="bold" fill="#000" stroke="#000" stroke-width="0.3" >0.4</text>
<line x1="381" y1="449.6" x2="383" y2="449.6" stroke="#000" stroke-width="0.9" />
<text x="380.2" y="451.85" font-size="6.3" text-anchor="end" font-weight="bold" fill="#000" stroke="#000" stroke-width="0.3" >0.6</text>
<line x1="381" y1="430.5" x2="383" y2="430.5" stroke="#000" stroke-width="0.9" />
<text x="380.2" y="432.75" font-size="6.3" text-anchor="end" font-weight="bold" fill="#000" stroke="#000" stroke-width="0.3" >0.8</text>
<line x1="381" y1="411.4" x2="383" y2="411.4" stroke="#000" stroke-width="0.9" />
<text x="380.2" y="413.65" font-size="6.3" text-anchor="end" font-weight="bold" fill="#000" stroke="#000" stroke-width="0.3" >1.0</text>
<line x1="383" y1="506.9" x2="383" y2="508.9" stroke="#000" stroke-width="0.9" />
<text x="383" y="517.5" font-size="6.3" text-anchor="middle" font-weight="bold" fill="#000" stroke="#000" stroke-width="0.3" >0</text>
<line x1="416" y1="506.9" x2="416" y2="508.9" stroke="#000" stroke-width="0.9" />
<text x="416" y="517.5" font-size="6.3" text-anchor="middle" font-weight="bold" fill="#000" stroke="#000" stroke-width="0.3" >20</text>
<line x1="449" y1="506.9" x2="449" y2="508.9" stroke="#000" stroke-width="0.9" />
<text x="449" y="517.5" font-size="6.3" text-anchor="middle" font-weight="bold" fill="#000" stroke="#000" stroke-width="0.3" >40</text>
<line x1="482" y1="506.9" x2="482" y2="508.9" stroke="#000" stroke-width="0.9" />
<text x="482" y="517.5" font-size="6.3" text-anchor="middle" font-weight="bold" fill="#000" stroke="#000" stroke-width="0.3" >60</text>
<line x1="515" y1="506.9" x2="515" y2="508.9" stroke="#000" stroke-width="0.9" />
<text x="515" y="517.5" font-size="6.3" text-anchor="middle" font-weight="bold" fill="#000" stroke="#000" stroke-width="0.3" >80</text>
<text x="449" y="527.3" font-size="7.2" text-anchor="middle" font-weight="bold" fill="#000" stroke="#000" stroke-width="0.18" >Months</text>
<text x="365.9" y="460.95" font-size="7.2" text-anchor="middle" font-weight="bold" fill="#000" stroke="#000" stroke-width="0.18" transform="rotate(-90 365.9 460.95)" >DFS</text>
<text x="353.8" y="402.9" font-size="12.6" text-anchor="start" font-weight="bold" fill="#000" stroke="#000" stroke-width="0.18" >F</text>
<path d="M383 411.4 L428.7 411.4 L428.7 416.65 L494.7 416.65" fill="none" stroke="#8a8a8a" stroke-width="0.8" stroke-linejoin="miter"/>
<path d="M416.66 411.4 L416.66 416.17 L420.12 416.17 L420.12 420.47 L431.35 420.47 L431.35 427.16 L457.91 427.16 L457.91 506.9 L457.91 506.9" fill="none" stroke="#000" stroke-width="1.5" stroke-linejoin="miter"/>
<line x1="402.8" y1="409.8" x2="402.8" y2="411.6" stroke="#111" stroke-width="1.0" />
<line x1="407.75" y1="409.8" x2="407.75" y2="411.6" stroke="#111" stroke-width="1.0" />
<line x1="411.05" y1="409.8" x2="411.05" y2="411.6" stroke="#111" stroke-width="1.0" />
<line x1="412.7" y1="409.8" x2="412.7" y2="411.6" stroke="#111" stroke-width="1.0" />
<line x1="414.35" y1="409.8" x2="414.35" y2="411.6" stroke="#111" stroke-width="1.0" />
<line x1="416" y1="409.8" x2="416" y2="411.6" stroke="#111" stroke-width="1.0" />
<line x1="424.25" y1="409.8" x2="424.25" y2="411.6" stroke="#111" stroke-width="1.0" />
<line x1="425.9" y1="409.8" x2="425.9" y2="411.6" stroke="#111" stroke-width="1.0" />
<line x1="430.02" y1="415.05" x2="430.02" y2="416.85" stroke="#111" stroke-width="1.0" />
<line x1="431.68" y1="415.05" x2="431.68" y2="416.85" stroke="#111" stroke-width="1.0" />
<line x1="433.32" y1="415.05" x2="433.32" y2="416.85" stroke="#111" stroke-width="1.0" />
<line x1="434.98" y1="415.05" x2="434.98" y2="416.85" stroke="#111" stroke-width="1.0" />
<line x1="437.45" y1="415.05" x2="437.45" y2="416.85" stroke="#111" stroke-width="1.0" />
<line x1="439.1" y1="415.05" x2="439.1" y2="416.85" stroke="#111" stroke-width="1.0" />
<line x1="449" y1="415.05" x2="449" y2="416.85" stroke="#111" stroke-width="1.0" />
<line x1="453.95" y1="415.05" x2="453.95" y2="416.85" stroke="#111" stroke-width="1.0" />
<line x1="455.6" y1="415.05" x2="455.6" y2="416.85" stroke="#111" stroke-width="1.0" />
<line x1="462.2" y1="415.05" x2="462.2" y2="416.85" stroke="#111" stroke-width="1.0" />
<line x1="472.1" y1="415.05" x2="472.1" y2="416.85" stroke="#111" stroke-width="1.0" />
<line x1="475.4" y1="415.05" x2="475.4" y2="416.85" stroke="#111" stroke-width="1.0" />
<line x1="494.7" y1="415.05" x2="494.7" y2="416.85" stroke="#111" stroke-width="1.0" />
<line x1="417.65" y1="414.27" x2="417.65" y2="416.17" stroke="#000" stroke-width="1.0" />
<line x1="422.6" y1="418.57" x2="422.6" y2="420.47" stroke="#000" stroke-width="1.0" />
<line x1="434.15" y1="425.26" x2="434.15" y2="427.16" stroke="#000" stroke-width="1.0" />
<line x1="437.45" y1="425.26" x2="437.45" y2="427.16" stroke="#000" stroke-width="1.0" />
<line x1="440.75" y1="425.26" x2="440.75" y2="427.16" stroke="#000" stroke-width="1.0" />
<line x1="443.23" y1="425.26" x2="443.23" y2="427.16" stroke="#000" stroke-width="1.0" />
<line x1="445.7" y1="425.26" x2="445.7" y2="427.16" stroke="#000" stroke-width="1.0" />
<line x1="449" y1="425.26" x2="449" y2="427.16" stroke="#000" stroke-width="1.0" />
<line x1="455.6" y1="425.26" x2="455.6" y2="427.16" stroke="#000" stroke-width="1.0" />
<line x1="390.3" y1="447.5" x2="399.8" y2="447.5" stroke="#8a8a8a" stroke-width="0.8" />
<line x1="395" y1="446" x2="395" y2="447.5" stroke="#333" stroke-width="0.8" />
<line x1="390.3" y1="458.8" x2="399.8" y2="458.8" stroke="#000" stroke-width="1.5" />
<line x1="395" y1="457" x2="395" y2="458.8" stroke="#000" stroke-width="0.9" />
<text x="405" y="449.9" font-size="7.2" text-anchor="start" font-weight="bold" fill="#000" stroke="#000" stroke-width="0.18" >CD57&lt; 164</text>
<text x="405" y="461.2" font-size="7.2" text-anchor="start" font-weight="bold" fill="#000" stroke="#000" stroke-width="0.18" >CD57≥ 164</text>
<text x="387.4" y="486.3" font-size="7.35" text-anchor="start" font-weight="bold" fill="#000" stroke="#000" stroke-width="0.18" >HR 0.16</text>
<text x="387.4" y="495.5" font-size="7.35" text-anchor="start" font-weight="bold" fill="#000" stroke="#000" stroke-width="0.18" >(95%CI: 0.02–0.05)</text>
<text x="387.4" y="503.6" font-size="7.35" text-anchor="start" font-weight="bold" fill="#000" stroke="#000" stroke-width="0.18" ><tspan font-style="italic">P</tspan> = 0.05 Log rank</text>
</svg>
</body></html>
